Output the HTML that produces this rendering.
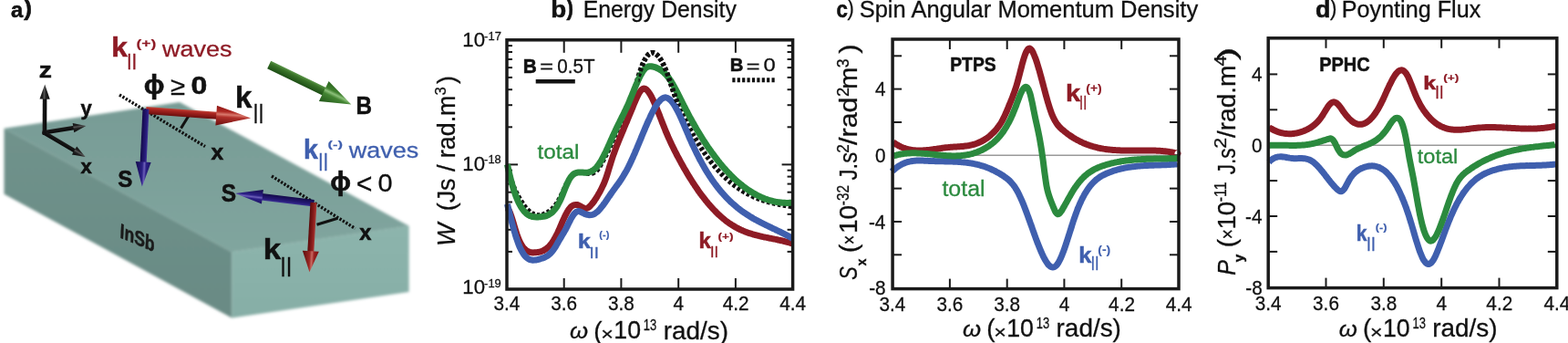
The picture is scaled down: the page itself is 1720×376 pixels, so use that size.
<!DOCTYPE html>
<html><head><meta charset="utf-8"><title>Figure</title>
<style>html,body{margin:0;padding:0;background:#fff;} body{width:1720px;height:376px;overflow:hidden;font-family:"Liberation Sans",Arial,sans-serif;} svg{display:block;}</style>
</head><body>
<svg width="1720" height="376" viewBox="0 0 1720 376" font-family="Liberation Sans, Arial, sans-serif"><defs><linearGradient id="g1" x1="0" y1="0" x2="0" y2="1"><stop offset="0" stop-color="#779b95"/><stop offset="1" stop-color="#80a59e"/></linearGradient><linearGradient id="g2" x1="0" y1="0" x2="0" y2="1"><stop offset="0" stop-color="#6f928b"/><stop offset="1" stop-color="#698a84"/></linearGradient><linearGradient id="g3" x1="0" y1="0" x2="0" y2="1"><stop offset="0" stop-color="#8cb4ac"/><stop offset="1" stop-color="#86aea6"/></linearGradient><linearGradient id="g4" x1="0" y1="0" x2="0" y2="1"><stop offset="0" stop-color="#1a1a1a"/><stop offset="1" stop-color="#0a0a0a"/></linearGradient><linearGradient id="g5" x1="0" y1="0" x2="0" y2="1"><stop offset="0" stop-color="#101010"/><stop offset="0.3" stop-color="#222"/><stop offset="0.45" stop-color="#555"/><stop offset="0.6" stop-color="#222"/><stop offset="1" stop-color="#0a0a0a"/></linearGradient><linearGradient id="g6" x1="0" y1="0" x2="0" y2="1"><stop offset="0" stop-color="#1a1a1a"/><stop offset="1" stop-color="#0a0a0a"/></linearGradient><linearGradient id="g7" x1="0" y1="0" x2="0" y2="1"><stop offset="0" stop-color="#101010"/><stop offset="0.3" stop-color="#222"/><stop offset="0.45" stop-color="#555"/><stop offset="0.6" stop-color="#222"/><stop offset="1" stop-color="#0a0a0a"/></linearGradient><linearGradient id="g8" x1="0" y1="0" x2="0" y2="1"><stop offset="0" stop-color="#1a1a1a"/><stop offset="1" stop-color="#0a0a0a"/></linearGradient><linearGradient id="g9" x1="0" y1="0" x2="0" y2="1"><stop offset="0" stop-color="#101010"/><stop offset="0.3" stop-color="#222"/><stop offset="0.45" stop-color="#555"/><stop offset="0.6" stop-color="#222"/><stop offset="1" stop-color="#0a0a0a"/></linearGradient><linearGradient id="g10" x1="0" y1="0" x2="0" y2="1"><stop offset="0" stop-color="#c2463a"/><stop offset="0.3" stop-color="#a82420"/><stop offset="1" stop-color="#6a0e0e"/></linearGradient><linearGradient id="g11" x1="0" y1="0" x2="0" y2="1"><stop offset="0" stop-color="#8e1616"/><stop offset="0.28" stop-color="#b02a24"/><stop offset="0.42" stop-color="#d8786c"/><stop offset="0.55" stop-color="#b0302a"/><stop offset="1" stop-color="#6a0e0e"/></linearGradient><linearGradient id="g12" x1="0" y1="0" x2="0" y2="1"><stop offset="0" stop-color="#3c3094"/><stop offset="0.3" stop-color="#261a78"/><stop offset="1" stop-color="#140a4a"/></linearGradient><linearGradient id="g13" x1="0" y1="0" x2="0" y2="1"><stop offset="0" stop-color="#1c1260"/><stop offset="0.3" stop-color="#2c2086"/><stop offset="0.42" stop-color="#6c5eb8"/><stop offset="0.55" stop-color="#2c2086"/><stop offset="1" stop-color="#140a4a"/></linearGradient><linearGradient id="g14" x1="0" y1="0" x2="0" y2="1"><stop offset="0" stop-color="#5a9448"/><stop offset="0.3" stop-color="#3a7429"/><stop offset="1" stop-color="#1e4f16"/></linearGradient><linearGradient id="g15" x1="0" y1="0" x2="0" y2="1"><stop offset="0" stop-color="#2a6420"/><stop offset="0.3" stop-color="#3f7f2e"/><stop offset="0.42" stop-color="#8cc07a"/><stop offset="0.55" stop-color="#438432"/><stop offset="1" stop-color="#22561a"/></linearGradient><linearGradient id="g16" x1="0" y1="0" x2="0" y2="1"><stop offset="0" stop-color="#3c3094"/><stop offset="0.3" stop-color="#261a78"/><stop offset="1" stop-color="#140a4a"/></linearGradient><linearGradient id="g17" x1="0" y1="0" x2="0" y2="1"><stop offset="0" stop-color="#1c1260"/><stop offset="0.3" stop-color="#2c2086"/><stop offset="0.42" stop-color="#6c5eb8"/><stop offset="0.55" stop-color="#2c2086"/><stop offset="1" stop-color="#140a4a"/></linearGradient><linearGradient id="g18" x1="0" y1="0" x2="0" y2="1"><stop offset="0" stop-color="#a83a36"/><stop offset="0.3" stop-color="#90201e"/><stop offset="1" stop-color="#5a0a0a"/></linearGradient><linearGradient id="g19" x1="0" y1="0" x2="0" y2="1"><stop offset="0" stop-color="#7a1010"/><stop offset="0.28" stop-color="#9a2220"/><stop offset="0.42" stop-color="#c86a62"/><stop offset="0.55" stop-color="#9a2824"/><stop offset="1" stop-color="#5a0a0a"/></linearGradient><clipPath id="peakclip"><rect x="700.5" y="40" width="60" height="75"/></clipPath><filter id="soft" x="-5%" y="-5%" width="110%" height="110%"><feGaussianBlur stdDeviation="1.4"/></filter></defs><g filter="url(#soft)">
<polygon points="4.5,140.8 254.3,276.2 254.3,348.5 4.5,212.7" fill="url(#g2)"/>
<polygon points="254.3,276.2 448.6,247.7 448.6,320.0 254.3,348.5" fill="url(#g3)"/>
<polygon points="4.5,140.8 197.0,112.0 448.6,247.7 254.3,276.2" fill="url(#g1)"/>
</g>
<text x="0" y="0" font-size="22.5" font-weight="bold" fill="#1a1a1a" stroke="#1a1a1a" stroke-width="0.5" transform="matrix(1,0.42,-0.05,1,131.3,260.3)" textLength="38" lengthAdjust="spacingAndGlyphs">InSb</text>
<g transform="translate(48.9,147.5) rotate(-89.69)"><rect x="0.0" y="-2.3" width="39.9" height="4.6" rx="0.0" fill="url(#g4)"/><path d="M38.9,-5.6 L54.9,0 L38.9,5.6 Z" fill="url(#g5)"/></g>
<g transform="translate(47.0,145.5) rotate(-9.01)"><rect x="0.0" y="-2.2" width="34.9" height="4.4" rx="0.0" fill="url(#g6)"/><path d="M33.9,-5.2 L47.9,0 L33.9,5.2 Z" fill="url(#g7)"/></g>
<g transform="translate(47.5,145.0) rotate(30.45)"><rect x="0.0" y="-2.2" width="40.5" height="4.4" rx="0.0" fill="url(#g8)"/><path d="M39.5,-5.2 L53.5,0 L39.5,5.2 Z" fill="url(#g9)"/></g>
<circle cx="48.6" cy="145.6" r="2.4" fill="#111"/>
<text x="42.87" y="85.30" font-size="23.21" font-weight="bold" fill="#111" stroke="#111" stroke-width="0.55" textLength="14.12" lengthAdjust="spacingAndGlyphs">z</text>
<text x="88.58" y="125.96" font-size="22.57" font-weight="bold" fill="#111" stroke="#111" stroke-width="0.55" textLength="12.26" lengthAdjust="spacingAndGlyphs">y</text>
<text x="88.58" y="190.20" font-size="22.45" font-weight="bold" fill="#111" stroke="#111" stroke-width="0.55" textLength="12.26" lengthAdjust="spacingAndGlyphs">x</text>
<line x1="131" y1="104" x2="225" y2="160.5" stroke="#111" stroke-width="3.4" stroke-dasharray="2.3 1.7"/>
<line x1="298" y1="193" x2="389.6" y2="250.5" stroke="#111" stroke-width="3.4" stroke-dasharray="2.3 1.7"/>
<line x1="207.7" y1="125.7" x2="198.5" y2="140.6" stroke="#111" stroke-width="3"/>
<line x1="347.5" y1="246.3" x2="370.5" y2="239.3" stroke="#111" stroke-width="3"/>
<g transform="translate(160.2,121.0) rotate(4.18)"><rect x="0.0" y="-4.0" width="78.2" height="8.0" rx="0.0" fill="url(#g10)"/><path d="M77.2,-11.0 L115.2,0 L77.2,11.0 Z" fill="url(#g11)"/></g>
<g transform="translate(160.0,119.5) rotate(92.76)"><rect x="0.0" y="-3.5" width="59.1" height="7.0" rx="0.0" fill="url(#g12)"/><path d="M58.1,-8.5 L85.1,0 L58.1,8.5 Z" fill="url(#g13)"/></g>
<g transform="translate(295.2,71.0) rotate(25.82)"><rect x="0.0" y="-4.6" width="67.7" height="9.2" rx="0.0" fill="url(#g14)"/><path d="M66.7,-12.3 L100.1,0 L66.7,12.3 Z" fill="url(#g15)"/></g>
<g transform="translate(344.3,222.7) rotate(-172.99)"><rect x="0.0" y="-3.8" width="57.8" height="7.5" rx="0.0" fill="url(#g16)"/><path d="M56.8,-7.8 L86.8,0 L56.8,7.8 Z" fill="url(#g17)"/></g>
<g transform="translate(344.0,222.0) rotate(93.38)"><rect x="0.0" y="-3.5" width="54.4" height="7.0" rx="0.0" fill="url(#g18)"/><path d="M53.4,-9.0 L76.4,0 L53.4,9.0 Z" fill="url(#g19)"/></g>
<text x="12.09" y="18.85" font-size="24.55" font-weight="bold" fill="#111" stroke="#111" stroke-width="0.55" textLength="13.20" lengthAdjust="spacingAndGlyphs">a</text>
<text x="26.30" y="17.47" font-size="22.99" font-weight="bold" fill="#111" stroke="#111" stroke-width="0.55" textLength="8.76" lengthAdjust="spacingAndGlyphs">)</text>
<text x="122.29" y="62.30" font-size="29.93" font-weight="bold" fill="#8e1b25" stroke="#8e1b25" stroke-width="0.55" textLength="17.55" lengthAdjust="spacingAndGlyphs">k</text>
<text x="138.94" y="71.66" font-size="19.25" fill="#8e1b25" stroke="#8e1b25" stroke-width="0.3" textLength="11.31" lengthAdjust="spacingAndGlyphs">||</text>
<text x="149.52" y="52.34" font-size="13.16" font-weight="bold" fill="#8e1b25" stroke="#8e1b25" stroke-width="0.15" textLength="21.96" lengthAdjust="spacingAndGlyphs">(+)</text>
<text x="178.00" y="62.05" font-size="24.73" fill="#8e1b25" stroke="#8e1b25" stroke-width="0.3" textLength="76.53" lengthAdjust="spacingAndGlyphs">waves</text>
<text x="157.79" y="103.21" font-size="28.98" font-weight="bold" fill="#111" stroke="#111" stroke-width="0.55" textLength="22.71" lengthAdjust="spacingAndGlyphs">ϕ</text>
<text x="186.92" y="103.70" font-size="28.00" fill="#111" stroke="#111" stroke-width="0.3" textLength="16.02" lengthAdjust="spacingAndGlyphs">≥</text>
<text x="209.62" y="103.42" font-size="27.75" font-weight="bold" fill="#111" stroke="#111" stroke-width="0.55" textLength="17.80" lengthAdjust="spacingAndGlyphs">0</text>
<text x="257.89" y="118.30" font-size="33.79" font-weight="bold" fill="#111" stroke="#111" stroke-width="0.55" textLength="18.35" lengthAdjust="spacingAndGlyphs">k</text>
<text x="277.54" y="129.87" font-size="22.03" fill="#111" stroke="#111" stroke-width="0.3" textLength="11.92" lengthAdjust="spacingAndGlyphs">||</text>
<text x="390.42" y="124.70" font-size="27.83" font-weight="bold" fill="#111" stroke="#111" stroke-width="0.55" textLength="17.52" lengthAdjust="spacingAndGlyphs">B</text>
<text x="129.28" y="205.04" font-size="26.20" font-weight="bold" fill="#111" stroke="#111" stroke-width="0.55" textLength="16.12" lengthAdjust="spacingAndGlyphs">S</text>
<text x="231.55" y="174.70" font-size="24.15" font-weight="bold" fill="#111" stroke="#111" stroke-width="0.55" textLength="13.70" lengthAdjust="spacingAndGlyphs">x</text>
<text x="332.91" y="173.60" font-size="30.21" font-weight="bold" fill="#3f5fae" stroke="#3f5fae" stroke-width="0.55" textLength="15.83" lengthAdjust="spacingAndGlyphs">k</text>
<text x="348.94" y="182.73" font-size="19.36" fill="#3f5fae" stroke="#3f5fae" stroke-width="0.3" textLength="11.31" lengthAdjust="spacingAndGlyphs">||</text>
<text x="359.57" y="162.10" font-size="11.44" font-weight="bold" fill="#3f5fae" stroke="#3f5fae" stroke-width="0.15" textLength="16.54" lengthAdjust="spacingAndGlyphs">(-)</text>
<text x="382.80" y="173.36" font-size="24.36" fill="#3f5fae" stroke="#3f5fae" stroke-width="0.3" textLength="76.43" lengthAdjust="spacingAndGlyphs">waves</text>
<text x="362.28" y="209.41" font-size="28.98" font-weight="bold" fill="#111" stroke="#111" stroke-width="0.55" textLength="22.82" lengthAdjust="spacingAndGlyphs">ϕ</text>
<text x="390.68" y="211.70" font-size="30.69" fill="#111" stroke="#111" stroke-width="0.3" textLength="17.70" lengthAdjust="spacingAndGlyphs">&lt;</text>
<text x="414.44" y="209.62" font-size="28.03" fill="#111" stroke="#111" stroke-width="0.3" textLength="16.11" lengthAdjust="spacingAndGlyphs">0</text>
<text x="242.66" y="221.43" font-size="26.90" font-weight="bold" fill="#111" stroke="#111" stroke-width="0.55" textLength="16.34" lengthAdjust="spacingAndGlyphs">S</text>
<text x="394.16" y="263.20" font-size="23.96" font-weight="bold" fill="#111" stroke="#111" stroke-width="0.55" textLength="13.18" lengthAdjust="spacingAndGlyphs">x</text>
<text x="288.86" y="284.00" font-size="31.72" font-weight="bold" fill="#111" stroke="#111" stroke-width="0.55" textLength="19.38" lengthAdjust="spacingAndGlyphs">k</text>
<text x="307.32" y="297.73" font-size="21.28" fill="#111" stroke="#111" stroke-width="0.3" textLength="13.14" lengthAdjust="spacingAndGlyphs">||</text>
<line x1="618.7" y1="43.8" x2="618.7" y2="57.8" stroke="#1a1a1a" stroke-width="2"/>
<line x1="618.7" y1="317.0" x2="618.7" y2="305.0" stroke="#1a1a1a" stroke-width="2"/>
<line x1="681.4" y1="43.8" x2="681.4" y2="57.8" stroke="#1a1a1a" stroke-width="2"/>
<line x1="681.4" y1="317.0" x2="681.4" y2="305.0" stroke="#1a1a1a" stroke-width="2"/>
<line x1="744.2" y1="43.8" x2="744.2" y2="57.8" stroke="#1a1a1a" stroke-width="2"/>
<line x1="744.2" y1="317.0" x2="744.2" y2="305.0" stroke="#1a1a1a" stroke-width="2"/>
<line x1="806.9" y1="43.8" x2="806.9" y2="57.8" stroke="#1a1a1a" stroke-width="2"/>
<line x1="806.9" y1="317.0" x2="806.9" y2="305.0" stroke="#1a1a1a" stroke-width="2"/>
<line x1="556.0" y1="275.9" x2="562.0" y2="275.9" stroke="#1a1a1a" stroke-width="2"/>
<line x1="869.6" y1="275.9" x2="863.6" y2="275.9" stroke="#1a1a1a" stroke-width="2"/>
<line x1="556.0" y1="139.3" x2="562.0" y2="139.3" stroke="#1a1a1a" stroke-width="2"/>
<line x1="869.6" y1="139.3" x2="863.6" y2="139.3" stroke="#1a1a1a" stroke-width="2"/>
<line x1="556.0" y1="251.8" x2="562.0" y2="251.8" stroke="#1a1a1a" stroke-width="2"/>
<line x1="869.6" y1="251.8" x2="863.6" y2="251.8" stroke="#1a1a1a" stroke-width="2"/>
<line x1="556.0" y1="115.2" x2="562.0" y2="115.2" stroke="#1a1a1a" stroke-width="2"/>
<line x1="869.6" y1="115.2" x2="863.6" y2="115.2" stroke="#1a1a1a" stroke-width="2"/>
<line x1="556.0" y1="234.8" x2="562.0" y2="234.8" stroke="#1a1a1a" stroke-width="2"/>
<line x1="869.6" y1="234.8" x2="863.6" y2="234.8" stroke="#1a1a1a" stroke-width="2"/>
<line x1="556.0" y1="98.2" x2="562.0" y2="98.2" stroke="#1a1a1a" stroke-width="2"/>
<line x1="869.6" y1="98.2" x2="863.6" y2="98.2" stroke="#1a1a1a" stroke-width="2"/>
<line x1="556.0" y1="221.5" x2="562.0" y2="221.5" stroke="#1a1a1a" stroke-width="2"/>
<line x1="869.6" y1="221.5" x2="863.6" y2="221.5" stroke="#1a1a1a" stroke-width="2"/>
<line x1="556.0" y1="84.9" x2="562.0" y2="84.9" stroke="#1a1a1a" stroke-width="2"/>
<line x1="869.6" y1="84.9" x2="863.6" y2="84.9" stroke="#1a1a1a" stroke-width="2"/>
<line x1="556.0" y1="210.7" x2="562.0" y2="210.7" stroke="#1a1a1a" stroke-width="2"/>
<line x1="869.6" y1="210.7" x2="863.6" y2="210.7" stroke="#1a1a1a" stroke-width="2"/>
<line x1="556.0" y1="74.1" x2="562.0" y2="74.1" stroke="#1a1a1a" stroke-width="2"/>
<line x1="869.6" y1="74.1" x2="863.6" y2="74.1" stroke="#1a1a1a" stroke-width="2"/>
<line x1="556.0" y1="201.6" x2="562.0" y2="201.6" stroke="#1a1a1a" stroke-width="2"/>
<line x1="869.6" y1="201.6" x2="863.6" y2="201.6" stroke="#1a1a1a" stroke-width="2"/>
<line x1="556.0" y1="65.0" x2="562.0" y2="65.0" stroke="#1a1a1a" stroke-width="2"/>
<line x1="869.6" y1="65.0" x2="863.6" y2="65.0" stroke="#1a1a1a" stroke-width="2"/>
<line x1="556.0" y1="193.6" x2="562.0" y2="193.6" stroke="#1a1a1a" stroke-width="2"/>
<line x1="869.6" y1="193.6" x2="863.6" y2="193.6" stroke="#1a1a1a" stroke-width="2"/>
<line x1="556.0" y1="57.0" x2="562.0" y2="57.0" stroke="#1a1a1a" stroke-width="2"/>
<line x1="869.6" y1="57.0" x2="863.6" y2="57.0" stroke="#1a1a1a" stroke-width="2"/>
<line x1="556.0" y1="186.7" x2="562.0" y2="186.7" stroke="#1a1a1a" stroke-width="2"/>
<line x1="869.6" y1="186.7" x2="863.6" y2="186.7" stroke="#1a1a1a" stroke-width="2"/>
<line x1="556.0" y1="50.1" x2="562.0" y2="50.1" stroke="#1a1a1a" stroke-width="2"/>
<line x1="869.6" y1="50.1" x2="863.6" y2="50.1" stroke="#1a1a1a" stroke-width="2"/>
<line x1="556.0" y1="180.4" x2="568.0" y2="180.4" stroke="#1a1a1a" stroke-width="2"/>
<line x1="869.6" y1="180.4" x2="857.6" y2="180.4" stroke="#1a1a1a" stroke-width="2"/>
<path d="M556.5,181.1 C556.8,182.4 557.8,186.8 558.5,189.3 C559.2,191.9 559.8,194.2 560.5,196.3 C561.2,198.4 561.8,200.3 562.5,202.1 C563.2,203.9 563.8,205.6 564.5,207.1 C565.2,208.6 565.8,210.0 566.5,211.3 C567.2,212.7 567.8,213.9 568.5,215.1 C569.2,216.3 569.8,217.4 570.5,218.6 C571.2,219.7 571.8,220.8 572.5,221.8 C573.2,222.9 573.8,223.9 574.5,224.9 C575.2,225.8 575.8,226.7 576.5,227.5 C577.2,228.4 577.8,229.1 578.5,229.8 C579.2,230.5 579.8,231.1 580.5,231.7 C581.2,232.3 581.8,232.8 582.5,233.2 C583.2,233.7 583.8,234.1 584.5,234.4 C585.2,234.7 585.8,235.0 586.5,235.2 C587.2,235.4 587.8,235.6 588.5,235.7 C589.2,235.8 589.8,235.9 590.5,235.9 C591.2,235.9 591.8,235.9 592.5,235.8 C593.2,235.7 593.8,235.6 594.5,235.4 C595.2,235.2 595.8,235.0 596.5,234.8 C597.2,234.5 597.8,234.2 598.5,233.9 C599.2,233.6 599.8,233.3 600.5,232.9 C601.2,232.5 601.8,232.1 602.5,231.6 C603.2,231.1 603.8,230.6 604.5,230.0 C605.2,229.5 605.8,228.9 606.5,228.2 C607.2,227.5 607.8,226.7 608.5,225.9 C609.2,225.1 609.8,224.2 610.5,223.3 C611.2,222.3 611.8,221.3 612.5,220.1 C613.2,219.0 613.8,217.8 614.5,216.5 C615.2,215.2 615.8,213.7 616.5,212.3 C617.2,210.9 617.8,209.3 618.5,207.9 C619.2,206.4 619.8,204.9 620.5,203.6 C621.2,202.2 621.8,200.9 622.5,199.7 C623.2,198.5 623.8,197.5 624.5,196.5 C625.2,195.6 625.8,194.7 626.5,194.0 C627.2,193.2 627.8,192.6 628.5,192.0 C629.2,191.4 629.8,191.0 630.5,190.6 C631.2,190.2 631.8,189.8 632.5,189.6 C633.2,189.3 633.8,189.2 634.5,189.0 C635.2,188.9 635.8,188.9 636.5,188.9 C637.2,188.8 637.8,188.9 638.5,189.0 C639.2,189.1 639.8,189.2 640.5,189.3 C641.2,189.4 641.8,189.6 642.5,189.7 C643.2,189.8 643.8,190.0 644.5,190.1 C645.2,190.2 645.8,190.3 646.5,190.3 C647.2,190.3 647.8,190.3 648.5,190.2 C649.2,190.1 649.8,189.9 650.5,189.7 C651.2,189.4 651.8,189.1 652.5,188.6 C653.2,188.2 653.8,187.7 654.5,187.0 C655.2,186.3 655.8,185.4 656.5,184.5 C657.2,183.6 657.8,182.5 658.5,181.4 C659.2,180.3 659.8,179.1 660.5,177.9 C661.2,176.7 661.8,175.5 662.5,174.3 C663.2,173.0 663.8,171.8 664.5,170.5 C665.2,169.3 665.8,168.0 666.5,166.7 C667.2,165.4 667.8,164.1 668.5,162.7 C669.2,161.2 669.8,159.8 670.5,158.2 C671.2,156.7 671.8,155.0 672.5,153.4 C673.2,151.8 673.8,150.1 674.5,148.5 C675.2,146.9 675.8,145.3 676.5,143.8 C677.2,142.3 677.8,140.8 678.5,139.5 C679.2,138.2 679.8,137.0 680.5,135.9 C681.2,134.7 681.8,133.7 682.5,132.6 C683.2,131.5 683.8,130.4 684.5,129.3 C685.2,128.1 685.8,127.0 686.5,125.6 C687.2,124.3 687.8,123.0 688.5,121.4 C689.2,119.9 689.8,118.2 690.5,116.3 C691.2,114.4 691.8,112.3 692.5,110.2 C693.2,108.0 693.8,105.7 694.5,103.4 C695.2,101.1 695.8,98.7 696.5,96.4 C697.2,94.1 697.8,91.7 698.5,89.5 C699.2,87.2 699.8,85.0 700.5,82.9 C701.2,80.8 701.8,78.8 702.5,76.9 C703.2,75.0 703.8,73.2 704.5,71.5 C705.2,69.9 705.8,68.3 706.5,67.0 C707.2,65.6 707.8,64.4 708.5,63.4 C709.2,62.3 709.8,61.4 710.5,60.7 C711.2,59.9 711.8,59.3 712.5,58.9 C713.2,58.4 713.8,58.1 714.5,57.9 C715.2,57.7 715.8,57.7 716.5,57.8 C717.2,57.9 717.8,58.1 718.5,58.4 C719.2,58.8 719.8,59.3 720.5,59.9 C721.2,60.4 721.8,61.2 722.5,62.0 C723.2,62.8 723.8,63.8 724.5,64.8 C725.2,65.9 725.8,67.0 726.5,68.3 C727.2,69.6 727.8,70.9 728.5,72.4 C729.2,73.9 729.8,75.4 730.5,77.1 C731.2,78.8 731.8,80.5 732.5,82.4 C733.2,84.2 733.8,86.1 734.5,88.0 C735.2,89.9 735.8,91.9 736.5,93.9 C737.2,95.9 737.8,97.8 738.5,99.8 C739.2,101.7 739.8,103.6 740.5,105.4 C741.2,107.3 741.8,109.0 742.5,110.7 C743.2,112.4 743.8,114.0 744.5,115.6 C745.2,117.1 745.8,118.6 746.5,120.1 C747.2,121.6 747.8,123.0 748.5,124.4 C749.2,125.8 749.8,127.2 750.5,128.6 C751.2,129.9 751.8,131.3 752.5,132.6 C753.2,134.0 753.8,135.3 754.5,136.6 C755.2,137.9 755.8,139.2 756.5,140.4 C757.2,141.7 757.8,142.9 758.5,144.2 C759.2,145.4 759.8,146.6 760.5,147.8 C761.2,149.0 761.8,150.2 762.5,151.3 C763.2,152.5 763.8,153.6 764.5,154.7 C765.2,155.8 765.8,156.9 766.5,158.0 C767.2,159.1 767.8,160.2 768.5,161.2 C769.2,162.2 769.8,163.3 770.5,164.3 C771.2,165.3 771.8,166.3 772.5,167.3 C773.2,168.2 773.8,169.2 774.5,170.1 C775.2,171.1 775.8,172.0 776.5,172.9 C777.2,173.8 777.8,174.7 778.5,175.6 C779.2,176.5 779.8,177.3 780.5,178.2 C781.2,179.0 781.8,179.9 782.5,180.7 C783.2,181.5 783.8,182.3 784.5,183.1 C785.2,183.9 785.8,184.6 786.5,185.4 C787.2,186.1 787.8,186.9 788.5,187.6 C789.2,188.3 789.8,189.0 790.5,189.7 C791.2,190.4 791.8,191.1 792.5,191.8 C793.2,192.5 793.8,193.1 794.5,193.8 C795.2,194.4 795.8,195.0 796.5,195.7 C797.2,196.3 797.8,196.9 798.5,197.5 C799.2,198.1 799.8,198.6 800.5,199.2 C801.2,199.8 801.8,200.3 802.5,200.9 C803.2,201.4 803.8,201.9 804.5,202.4 C805.2,203.0 805.8,203.5 806.5,204.0 C807.2,204.5 807.8,204.9 808.5,205.4 C809.2,205.9 809.8,206.3 810.5,206.8 C811.2,207.2 811.8,207.7 812.5,208.1 C813.2,208.5 813.8,209.0 814.5,209.4 C815.2,209.8 815.8,210.2 816.5,210.6 C817.2,210.9 817.8,211.3 818.5,211.7 C819.2,212.1 819.8,212.4 820.5,212.8 C821.2,213.1 821.8,213.4 822.5,213.8 C823.2,214.1 823.8,214.4 824.5,214.7 C825.2,215.1 825.8,215.4 826.5,215.7 C827.2,216.0 827.8,216.2 828.5,216.5 C829.2,216.8 829.8,217.1 830.5,217.3 C831.2,217.6 831.8,217.9 832.5,218.1 C833.2,218.4 833.8,218.6 834.5,218.8 C835.2,219.1 835.8,219.3 836.5,219.5 C837.2,219.8 837.8,220.0 838.5,220.2 C839.2,220.4 839.8,220.6 840.5,220.8 C841.2,221.0 841.8,221.2 842.5,221.4 C843.2,221.5 843.8,221.7 844.5,221.9 C845.2,222.1 845.8,222.2 846.5,222.4 C847.2,222.6 847.8,222.7 848.5,222.9 C849.2,223.0 849.8,223.2 850.5,223.3 C851.2,223.5 851.8,223.6 852.5,223.8 C853.2,223.9 853.8,224.0 854.5,224.2 C855.2,224.3 855.8,224.4 856.5,224.5 C857.2,224.6 857.8,224.8 858.5,224.9 C859.2,225.0 859.8,225.1 860.5,225.2 C861.2,225.3 861.8,225.4 862.5,225.5 C863.2,225.6 863.8,225.7 864.5,225.8 C865.2,225.9 865.8,226.0 866.5,226.1 C867.2,226.2 868.1,226.4 868.5,226.4 C868.9,226.5 868.9,226.5 869.0,226.5" fill="none" stroke="#111" stroke-width="5.5" stroke-linejoin="round" stroke-dasharray="3.6 2.4"/>
<path d="M557.0,228.1 C557.3,228.7 558.3,230.4 559.0,232.0 C559.7,233.5 560.3,235.5 561.0,237.5 C561.7,239.5 562.3,241.7 563.0,243.9 C563.7,246.1 564.3,248.5 565.0,250.6 C565.7,252.8 566.3,255.0 567.0,256.9 C567.7,258.8 568.3,260.6 569.0,262.2 C569.7,263.8 570.3,265.2 571.0,266.5 C571.7,267.7 572.3,268.9 573.0,269.8 C573.7,270.8 574.3,271.7 575.0,272.4 C575.7,273.2 576.3,273.8 577.0,274.3 C577.7,274.8 578.3,275.2 579.0,275.6 C579.7,275.9 580.3,276.2 581.0,276.4 C581.7,276.6 582.3,276.7 583.0,276.8 C583.7,276.9 584.3,276.9 585.0,276.9 C585.7,276.9 586.3,276.8 587.0,276.8 C587.7,276.8 588.3,276.7 589.0,276.6 C589.7,276.5 590.3,276.4 591.0,276.3 C591.7,276.1 592.3,276.0 593.0,275.8 C593.7,275.6 594.3,275.4 595.0,275.1 C595.7,274.8 596.3,274.5 597.0,274.1 C597.7,273.7 598.3,273.3 599.0,272.8 C599.7,272.4 600.3,271.8 601.0,271.2 C601.7,270.6 602.3,270.0 603.0,269.2 C603.7,268.5 604.3,267.7 605.0,266.8 C605.7,265.9 606.3,265.0 607.0,263.9 C607.7,262.9 608.3,261.8 609.0,260.5 C609.7,259.3 610.3,258.0 611.0,256.6 C611.7,255.2 612.3,253.7 613.0,252.2 C613.7,250.7 614.3,249.2 615.0,247.6 C615.7,246.1 616.3,244.5 617.0,243.0 C617.7,241.5 618.3,240.0 619.0,238.6 C619.7,237.1 620.3,235.8 621.0,234.5 C621.7,233.2 622.3,232.0 623.0,231.0 C623.7,229.9 624.3,229.0 625.0,228.2 C625.7,227.4 626.3,226.8 627.0,226.2 C627.7,225.7 628.3,225.3 629.0,225.0 C629.7,224.7 630.3,224.5 631.0,224.5 C631.7,224.4 632.3,224.4 633.0,224.5 C633.7,224.6 634.3,224.8 635.0,225.1 C635.7,225.4 636.3,225.8 637.0,226.2 C637.7,226.5 638.3,227.0 639.0,227.4 C639.7,227.8 640.3,228.2 641.0,228.4 C641.7,228.6 642.3,228.7 643.0,228.6 C643.7,228.5 644.3,228.2 645.0,227.8 C645.7,227.4 646.3,226.8 647.0,226.2 C647.7,225.5 648.3,224.8 649.0,224.0 C649.7,223.2 650.3,222.4 651.0,221.5 C651.7,220.6 652.3,219.6 653.0,218.6 C653.7,217.6 654.3,216.6 655.0,215.5 C655.7,214.4 656.3,213.2 657.0,212.0 C657.7,210.8 658.3,209.6 659.0,208.3 C659.7,207.0 660.3,205.7 661.0,204.3 C661.7,202.9 662.3,201.5 663.0,199.8 C663.7,198.2 664.3,196.4 665.0,194.5 C665.7,192.6 666.3,190.4 667.0,188.3 C667.7,186.1 668.3,183.8 669.0,181.7 C669.7,179.5 670.3,177.3 671.0,175.3 C671.7,173.2 672.3,171.3 673.0,169.4 C673.7,167.5 674.3,165.7 675.0,163.9 C675.7,162.1 676.3,160.4 677.0,158.7 C677.7,157.0 678.3,155.4 679.0,153.7 C679.7,152.1 680.3,150.4 681.0,148.8 C681.7,147.2 682.3,145.6 683.0,144.0 C683.7,142.4 684.3,140.8 685.0,139.2 C685.7,137.6 686.3,136.0 687.0,134.5 C687.7,132.9 688.3,131.3 689.0,129.7 C689.7,128.1 690.3,126.5 691.0,124.9 C691.7,123.3 692.3,121.7 693.0,120.1 C693.7,118.5 694.3,116.8 695.0,115.2 C695.7,113.6 696.3,111.9 697.0,110.4 C697.7,108.8 698.3,107.3 699.0,105.9 C699.7,104.6 700.3,103.2 701.0,102.1 C701.7,101.0 702.3,100.0 703.0,99.2 C703.7,98.4 704.3,97.8 705.0,97.5 C705.7,97.1 706.3,97.0 707.0,97.1 C707.7,97.3 708.3,97.7 709.0,98.2 C709.7,98.7 710.3,99.4 711.0,100.3 C711.7,101.1 712.3,102.2 713.0,103.2 C713.7,104.3 714.3,105.6 715.0,106.8 C715.7,108.1 716.3,109.5 717.0,111.0 C717.7,112.4 718.3,113.9 719.0,115.5 C719.7,117.1 720.3,118.7 721.0,120.3 C721.7,122.0 722.3,123.7 723.0,125.4 C723.7,127.1 724.3,128.8 725.0,130.5 C725.7,132.3 726.3,134.0 727.0,135.7 C727.7,137.4 728.3,139.1 729.0,140.7 C729.7,142.3 730.3,144.0 731.0,145.5 C731.7,147.1 732.3,148.6 733.0,150.2 C733.7,151.7 734.3,153.1 735.0,154.6 C735.7,156.0 736.3,157.5 737.0,158.9 C737.7,160.2 738.3,161.6 739.0,163.0 C739.7,164.3 740.3,165.6 741.0,166.9 C741.7,168.2 742.3,169.5 743.0,170.8 C743.7,172.1 744.3,173.3 745.0,174.6 C745.7,175.8 746.3,177.0 747.0,178.2 C747.7,179.4 748.3,180.6 749.0,181.8 C749.7,183.0 750.3,184.2 751.0,185.3 C751.7,186.5 752.3,187.6 753.0,188.7 C753.7,189.9 754.3,191.0 755.0,192.1 C755.7,193.2 756.3,194.3 757.0,195.3 C757.7,196.4 758.3,197.5 759.0,198.5 C759.7,199.5 760.3,200.6 761.0,201.6 C761.7,202.6 762.3,203.6 763.0,204.6 C763.7,205.6 764.3,206.5 765.0,207.5 C765.7,208.4 766.3,209.4 767.0,210.3 C767.7,211.2 768.3,212.2 769.0,213.1 C769.7,214.0 770.3,214.9 771.0,215.7 C771.7,216.6 772.3,217.5 773.0,218.3 C773.7,219.1 774.3,220.0 775.0,220.8 C775.7,221.6 776.3,222.4 777.0,223.2 C777.7,224.0 778.3,224.8 779.0,225.5 C779.7,226.3 780.3,227.0 781.0,227.7 C781.7,228.5 782.3,229.2 783.0,229.9 C783.7,230.6 784.3,231.3 785.0,232.0 C785.7,232.6 786.3,233.3 787.0,233.9 C787.7,234.6 788.3,235.2 789.0,235.8 C789.7,236.5 790.3,237.1 791.0,237.6 C791.7,238.2 792.3,238.8 793.0,239.4 C793.7,239.9 794.3,240.5 795.0,241.0 C795.7,241.5 796.3,242.1 797.0,242.6 C797.7,243.1 798.3,243.6 799.0,244.0 C799.7,244.5 800.3,245.0 801.0,245.4 C801.7,245.9 802.3,246.3 803.0,246.7 C803.7,247.1 804.3,247.5 805.0,247.9 C805.7,248.3 806.3,248.7 807.0,249.1 C807.7,249.4 808.3,249.8 809.0,250.1 C809.7,250.5 810.3,250.8 811.0,251.1 C811.7,251.5 812.3,251.8 813.0,252.1 C813.7,252.4 814.3,252.7 815.0,253.0 C815.7,253.2 816.3,253.5 817.0,253.8 C817.7,254.0 818.3,254.3 819.0,254.5 C819.7,254.8 820.3,255.0 821.0,255.3 C821.7,255.5 822.3,255.7 823.0,255.9 C823.7,256.1 824.3,256.3 825.0,256.5 C825.7,256.7 826.3,256.9 827.0,257.1 C827.7,257.3 828.3,257.5 829.0,257.7 C829.7,257.9 830.3,258.0 831.0,258.2 C831.7,258.4 832.3,258.5 833.0,258.7 C833.7,258.8 834.3,259.0 835.0,259.1 C835.7,259.3 836.3,259.4 837.0,259.6 C837.7,259.7 838.3,259.9 839.0,260.0 C839.7,260.2 840.3,260.3 841.0,260.4 C841.7,260.6 842.3,260.7 843.0,260.8 C843.7,261.0 844.3,261.1 845.0,261.2 C845.7,261.4 846.3,261.5 847.0,261.6 C847.7,261.8 848.3,261.9 849.0,262.0 C849.7,262.2 850.3,262.3 851.0,262.4 C851.7,262.6 852.3,262.7 853.0,262.8 C853.7,263.0 854.3,263.1 855.0,263.3 C855.7,263.4 856.3,263.6 857.0,263.7 C857.7,263.9 858.3,264.0 859.0,264.2 C859.7,264.3 860.3,264.5 861.0,264.7 C861.7,264.8 862.3,265.0 863.0,265.2 C863.7,265.3 864.3,265.5 865.0,265.7 C865.7,265.9 866.3,266.1 867.0,266.3 C867.7,266.5 868.7,266.8 869.0,266.9" fill="none" stroke="#8e1b25" stroke-width="7" stroke-linejoin="round" />
<path d="M556.5,223.8 C556.8,225.1 557.8,229.3 558.5,231.9 C559.2,234.6 559.8,237.3 560.5,239.9 C561.2,242.5 561.8,245.0 562.5,247.5 C563.2,249.9 563.8,252.3 564.5,254.6 C565.2,256.8 565.8,259.0 566.5,261.0 C567.2,263.1 567.8,265.0 568.5,266.8 C569.2,268.5 569.8,270.2 570.5,271.6 C571.2,273.1 571.8,274.4 572.5,275.6 C573.2,276.8 573.8,277.8 574.5,278.8 C575.2,279.7 575.8,280.5 576.5,281.2 C577.2,281.9 577.8,282.5 578.5,283.0 C579.2,283.5 579.8,283.9 580.5,284.2 C581.2,284.5 581.8,284.7 582.5,284.9 C583.2,285.0 583.8,285.1 584.5,285.2 C585.2,285.2 585.8,285.2 586.5,285.1 C587.2,285.1 587.8,285.0 588.5,284.9 C589.2,284.7 589.8,284.6 590.5,284.4 C591.2,284.2 591.8,284.0 592.5,283.8 C593.2,283.6 593.8,283.4 594.5,283.2 C595.2,283.0 595.8,282.8 596.5,282.5 C597.2,282.2 597.8,281.9 598.5,281.5 C599.2,281.2 599.8,280.8 600.5,280.4 C601.2,279.9 601.8,279.4 602.5,278.9 C603.2,278.3 603.8,277.7 604.5,277.0 C605.2,276.2 605.8,275.5 606.5,274.6 C607.2,273.7 607.8,272.7 608.5,271.7 C609.2,270.7 609.8,269.6 610.5,268.4 C611.2,267.3 611.8,266.1 612.5,265.0 C613.2,263.8 613.8,262.6 614.5,261.5 C615.2,260.4 615.8,259.3 616.5,258.2 C617.2,257.1 617.8,256.0 618.5,254.9 C619.2,253.7 619.8,252.6 620.5,251.4 C621.2,250.1 621.8,248.8 622.5,247.5 C623.2,246.1 623.8,244.7 624.5,243.4 C625.2,242.1 625.8,240.8 626.5,239.6 C627.2,238.4 627.8,237.3 628.5,236.3 C629.2,235.3 629.8,234.5 630.5,233.8 C631.2,233.1 631.8,232.5 632.5,232.1 C633.2,231.8 633.8,231.6 634.5,231.6 C635.2,231.6 635.8,231.8 636.5,232.1 C637.2,232.3 637.8,232.7 638.5,233.0 C639.2,233.3 639.8,233.7 640.5,234.0 C641.2,234.3 641.8,234.5 642.5,234.8 C643.2,235.0 643.8,235.2 644.5,235.4 C645.2,235.5 645.8,235.6 646.5,235.7 C647.2,235.7 647.8,235.7 648.5,235.6 C649.2,235.5 649.8,235.4 650.5,235.1 C651.2,234.9 651.8,234.6 652.5,234.2 C653.2,233.8 653.8,233.3 654.5,232.7 C655.2,232.2 655.8,231.6 656.5,230.9 C657.2,230.2 657.8,229.5 658.5,228.7 C659.2,227.9 659.8,227.1 660.5,226.2 C661.2,225.4 661.8,224.4 662.5,223.5 C663.2,222.6 663.8,221.7 664.5,220.7 C665.2,219.7 665.8,218.8 666.5,217.8 C667.2,216.8 667.8,215.8 668.5,214.9 C669.2,213.9 669.8,212.9 670.5,212.0 C671.2,211.0 671.8,210.1 672.5,209.2 C673.2,208.3 673.8,207.4 674.5,206.4 C675.2,205.5 675.8,204.6 676.5,203.7 C677.2,202.8 677.8,201.8 678.5,200.9 C679.2,199.9 679.8,199.0 680.5,198.0 C681.2,197.0 681.8,196.0 682.5,194.9 C683.2,193.9 683.8,192.8 684.5,191.7 C685.2,190.6 685.8,189.5 686.5,188.3 C687.2,187.1 687.8,185.9 688.5,184.6 C689.2,183.3 689.8,182.0 690.5,180.6 C691.2,179.2 691.8,177.8 692.5,176.4 C693.2,174.9 693.8,173.4 694.5,171.9 C695.2,170.4 695.8,168.9 696.5,167.4 C697.2,165.8 697.8,164.2 698.5,162.7 C699.2,161.1 699.8,159.5 700.5,157.9 C701.2,156.3 701.8,154.7 702.5,153.1 C703.2,151.5 703.8,149.8 704.5,148.2 C705.2,146.6 705.8,145.0 706.5,143.4 C707.2,141.9 707.8,140.3 708.5,138.7 C709.2,137.2 709.8,135.6 710.5,134.1 C711.2,132.6 711.8,131.1 712.5,129.7 C713.2,128.2 713.8,126.8 714.5,125.4 C715.2,124.1 715.8,122.7 716.5,121.5 C717.2,120.2 717.8,119.0 718.5,117.8 C719.2,116.7 719.8,115.6 720.5,114.6 C721.2,113.6 721.8,112.6 722.5,111.8 C723.2,111.0 723.8,110.2 724.5,109.6 C725.2,109.0 725.8,108.4 726.5,108.0 C727.2,107.6 727.8,107.3 728.5,107.1 C729.2,106.9 729.8,106.8 730.5,106.9 C731.2,107.0 731.8,107.2 732.5,107.6 C733.2,107.9 733.8,108.4 734.5,108.9 C735.2,109.5 735.8,110.2 736.5,110.9 C737.2,111.7 737.8,112.6 738.5,113.5 C739.2,114.5 739.8,115.5 740.5,116.6 C741.2,117.7 741.8,118.9 742.5,120.2 C743.2,121.4 743.8,122.7 744.5,124.1 C745.2,125.4 745.8,126.8 746.5,128.3 C747.2,129.7 747.8,131.2 748.5,132.7 C749.2,134.2 749.8,135.8 750.5,137.3 C751.2,138.9 751.8,140.4 752.5,142.0 C753.2,143.6 753.8,145.2 754.5,146.7 C755.2,148.3 755.8,149.8 756.5,151.4 C757.2,152.9 757.8,154.4 758.5,155.9 C759.2,157.4 759.8,158.9 760.5,160.3 C761.2,161.7 761.8,163.1 762.5,164.5 C763.2,165.9 763.8,167.2 764.5,168.6 C765.2,169.9 765.8,171.2 766.5,172.5 C767.2,173.8 767.8,175.1 768.5,176.3 C769.2,177.5 769.8,178.7 770.5,179.9 C771.2,181.1 771.8,182.3 772.5,183.4 C773.2,184.6 773.8,185.7 774.5,186.8 C775.2,187.9 775.8,189.0 776.5,190.1 C777.2,191.1 777.8,192.2 778.5,193.2 C779.2,194.2 779.8,195.2 780.5,196.2 C781.2,197.2 781.8,198.1 782.5,199.1 C783.2,200.0 783.8,200.9 784.5,201.8 C785.2,202.7 785.8,203.6 786.5,204.5 C787.2,205.3 787.8,206.2 788.5,207.0 C789.2,207.8 789.8,208.7 790.5,209.5 C791.2,210.3 791.8,211.0 792.5,211.8 C793.2,212.6 793.8,213.3 794.5,214.0 C795.2,214.8 795.8,215.5 796.5,216.2 C797.2,216.9 797.8,217.6 798.5,218.2 C799.2,218.9 799.8,219.6 800.5,220.2 C801.2,220.9 801.8,221.5 802.5,222.1 C803.2,222.7 803.8,223.3 804.5,223.9 C805.2,224.5 805.8,225.1 806.5,225.6 C807.2,226.2 807.8,226.8 808.5,227.3 C809.2,227.8 809.8,228.4 810.5,228.9 C811.2,229.4 811.8,229.9 812.5,230.4 C813.2,230.9 813.8,231.4 814.5,231.9 C815.2,232.4 815.8,232.8 816.5,233.3 C817.2,233.7 817.8,234.2 818.5,234.6 C819.2,235.1 819.8,235.5 820.5,235.9 C821.2,236.4 821.8,236.8 822.5,237.2 C823.2,237.6 823.8,238.0 824.5,238.4 C825.2,238.8 825.8,239.2 826.5,239.6 C827.2,239.9 827.8,240.3 828.5,240.7 C829.2,241.1 829.8,241.4 830.5,241.8 C831.2,242.1 831.8,242.5 832.5,242.8 C833.2,243.2 833.8,243.5 834.5,243.9 C835.2,244.2 835.8,244.6 836.5,244.9 C837.2,245.2 837.8,245.6 838.5,245.9 C839.2,246.2 839.8,246.5 840.5,246.9 C841.2,247.2 841.8,247.5 842.5,247.8 C843.2,248.2 843.8,248.5 844.5,248.8 C845.2,249.1 845.8,249.4 846.5,249.7 C847.2,250.1 847.8,250.4 848.5,250.7 C849.2,251.0 849.8,251.3 850.5,251.6 C851.2,252.0 851.8,252.3 852.5,252.6 C853.2,252.9 853.8,253.2 854.5,253.6 C855.2,253.9 855.8,254.2 856.5,254.5 C857.2,254.9 857.8,255.2 858.5,255.5 C859.2,255.9 859.8,256.2 860.5,256.5 C861.2,256.9 861.8,257.2 862.5,257.6 C863.2,257.9 863.8,258.3 864.5,258.6 C865.2,259.0 865.8,259.4 866.5,259.7 C867.2,260.1 868.1,260.6 868.5,260.9 C868.9,261.1 868.9,261.1 869.0,261.1" fill="none" stroke="#3f5fae" stroke-width="7" stroke-linejoin="round" />
<path d="M556.5,180.2 C556.8,181.7 557.8,186.4 558.5,189.3 C559.2,192.2 559.8,194.9 560.5,197.4 C561.2,200.0 561.8,202.4 562.5,204.6 C563.2,206.9 563.8,209.0 564.5,210.9 C565.2,212.9 565.8,214.7 566.5,216.4 C567.2,218.1 567.8,219.6 568.5,221.1 C569.2,222.5 569.8,223.8 570.5,225.0 C571.2,226.2 571.8,227.3 572.5,228.3 C573.2,229.3 573.8,230.2 574.5,231.0 C575.2,231.9 575.8,232.6 576.5,233.2 C577.2,233.8 577.8,234.4 578.5,234.9 C579.2,235.4 579.8,235.8 580.5,236.1 C581.2,236.5 581.8,236.8 582.5,237.0 C583.2,237.2 583.8,237.4 584.5,237.6 C585.2,237.7 585.8,237.8 586.5,237.8 C587.2,237.9 587.8,237.9 588.5,237.9 C589.2,238.0 589.8,237.9 590.5,237.9 C591.2,237.9 591.8,237.8 592.5,237.8 C593.2,237.7 593.8,237.6 594.5,237.6 C595.2,237.5 595.8,237.4 596.5,237.2 C597.2,237.1 597.8,237.0 598.5,236.8 C599.2,236.6 599.8,236.3 600.5,236.0 C601.2,235.8 601.8,235.4 602.5,235.0 C603.2,234.6 603.8,234.2 604.5,233.7 C605.2,233.2 605.8,232.6 606.5,231.9 C607.2,231.3 607.8,230.5 608.5,229.7 C609.2,228.9 609.8,228.0 610.5,227.0 C611.2,225.9 611.8,224.8 612.5,223.6 C613.2,222.4 613.8,221.1 614.5,219.7 C615.2,218.3 615.8,216.7 616.5,215.1 C617.2,213.5 617.8,211.8 618.5,210.2 C619.2,208.5 619.8,206.8 620.5,205.2 C621.2,203.6 621.8,202.0 622.5,200.6 C623.2,199.2 623.8,197.8 624.5,196.6 C625.2,195.5 625.8,194.5 626.5,193.6 C627.2,192.8 627.8,192.1 628.5,191.5 C629.2,190.9 629.8,190.5 630.5,190.1 C631.2,189.7 631.8,189.5 632.5,189.3 C633.2,189.1 633.8,189.0 634.5,188.9 C635.2,188.9 635.8,188.9 636.5,188.9 C637.2,188.9 637.8,189.0 638.5,189.0 C639.2,189.1 639.8,189.1 640.5,189.2 C641.2,189.2 641.8,189.3 642.5,189.3 C643.2,189.2 643.8,189.2 644.5,189.1 C645.2,189.0 645.8,188.9 646.5,188.7 C647.2,188.5 647.8,188.2 648.5,187.9 C649.2,187.6 649.8,187.2 650.5,186.8 C651.2,186.4 651.8,185.8 652.5,185.2 C653.2,184.6 653.8,184.0 654.5,183.2 C655.2,182.4 655.8,181.6 656.5,180.7 C657.2,179.7 657.8,178.7 658.5,177.6 C659.2,176.5 659.8,175.4 660.5,174.1 C661.2,172.9 661.8,171.7 662.5,170.3 C663.2,169.0 663.8,167.6 664.5,166.3 C665.2,164.9 665.8,163.4 666.5,162.0 C667.2,160.5 667.8,159.0 668.5,157.6 C669.2,156.1 669.8,154.6 670.5,153.1 C671.2,151.6 671.8,150.1 672.5,148.6 C673.2,147.2 673.8,145.7 674.5,144.3 C675.2,142.8 675.8,141.4 676.5,140.0 C677.2,138.7 677.8,137.3 678.5,136.0 C679.2,134.6 679.8,133.3 680.5,131.9 C681.2,130.6 681.8,129.3 682.5,127.9 C683.2,126.6 683.8,125.2 684.5,123.9 C685.2,122.5 685.8,121.1 686.5,119.7 C687.2,118.3 687.8,116.9 688.5,115.4 C689.2,113.9 689.8,112.4 690.5,110.8 C691.2,109.2 691.8,107.6 692.5,106.0 C693.2,104.4 693.8,102.7 694.5,101.1 C695.2,99.4 695.8,97.8 696.5,96.2 C697.2,94.6 697.8,93.0 698.5,91.4 C699.2,89.9 699.8,88.4 700.5,87.0 C701.2,85.5 701.8,84.2 702.5,82.9 C703.2,81.6 703.8,80.4 704.5,79.4 C705.2,78.3 705.8,77.3 706.5,76.5 C707.2,75.7 707.8,75.0 708.5,74.4 C709.2,73.9 709.8,73.5 710.5,73.2 C711.2,72.9 711.8,72.8 712.5,72.7 C713.2,72.6 713.8,72.7 714.5,72.7 C715.2,72.8 715.8,72.9 716.5,73.1 C717.2,73.3 717.8,73.5 718.5,73.7 C719.2,73.9 719.8,74.2 720.5,74.5 C721.2,74.8 721.8,75.1 722.5,75.4 C723.2,75.8 723.8,76.2 724.5,76.6 C725.2,77.1 725.8,77.6 726.5,78.1 C727.2,78.6 727.8,79.2 728.5,79.8 C729.2,80.4 729.8,81.1 730.5,81.8 C731.2,82.5 731.8,83.3 732.5,84.1 C733.2,84.9 733.8,85.8 734.5,86.8 C735.2,87.7 735.8,88.7 736.5,89.8 C737.2,90.8 737.8,91.9 738.5,93.1 C739.2,94.2 739.8,95.4 740.5,96.7 C741.2,97.9 741.8,99.2 742.5,100.4 C743.2,101.7 743.8,103.0 744.5,104.4 C745.2,105.7 745.8,107.0 746.5,108.4 C747.2,109.7 747.8,111.0 748.5,112.4 C749.2,113.7 749.8,115.0 750.5,116.4 C751.2,117.7 751.8,119.0 752.5,120.3 C753.2,121.6 753.8,122.8 754.5,124.1 C755.2,125.4 755.8,126.6 756.5,127.9 C757.2,129.1 757.8,130.3 758.5,131.5 C759.2,132.7 759.8,133.9 760.5,135.1 C761.2,136.3 761.8,137.5 762.5,138.6 C763.2,139.8 763.8,140.9 764.5,142.1 C765.2,143.2 765.8,144.3 766.5,145.4 C767.2,146.5 767.8,147.6 768.5,148.7 C769.2,149.8 769.8,150.8 770.5,151.9 C771.2,153.0 771.8,154.0 772.5,155.0 C773.2,156.1 773.8,157.1 774.5,158.1 C775.2,159.1 775.8,160.1 776.5,161.1 C777.2,162.0 777.8,163.0 778.5,163.9 C779.2,164.9 779.8,165.8 780.5,166.8 C781.2,167.7 781.8,168.6 782.5,169.5 C783.2,170.4 783.8,171.3 784.5,172.2 C785.2,173.1 785.8,173.9 786.5,174.8 C787.2,175.6 787.8,176.5 788.5,177.3 C789.2,178.1 789.8,179.0 790.5,179.8 C791.2,180.6 791.8,181.4 792.5,182.2 C793.2,182.9 793.8,183.7 794.5,184.5 C795.2,185.2 795.8,186.0 796.5,186.7 C797.2,187.4 797.8,188.1 798.5,188.9 C799.2,189.6 799.8,190.3 800.5,191.0 C801.2,191.6 801.8,192.3 802.5,193.0 C803.2,193.6 803.8,194.3 804.5,194.9 C805.2,195.6 805.8,196.2 806.5,196.8 C807.2,197.4 807.8,198.0 808.5,198.6 C809.2,199.2 809.8,199.8 810.5,200.4 C811.2,200.9 811.8,201.5 812.5,202.0 C813.2,202.6 813.8,203.1 814.5,203.6 C815.2,204.1 815.8,204.7 816.5,205.2 C817.2,205.7 817.8,206.1 818.5,206.6 C819.2,207.1 819.8,207.6 820.5,208.0 C821.2,208.5 821.8,208.9 822.5,209.4 C823.2,209.8 823.8,210.2 824.5,210.6 C825.2,211.0 825.8,211.4 826.5,211.8 C827.2,212.2 827.8,212.6 828.5,212.9 C829.2,213.3 829.8,213.7 830.5,214.0 C831.2,214.4 831.8,214.7 832.5,215.0 C833.2,215.3 833.8,215.6 834.5,215.9 C835.2,216.2 835.8,216.5 836.5,216.8 C837.2,217.1 837.8,217.4 838.5,217.6 C839.2,217.9 839.8,218.1 840.5,218.4 C841.2,218.6 841.8,218.8 842.5,219.0 C843.2,219.2 843.8,219.5 844.5,219.6 C845.2,219.8 845.8,220.0 846.5,220.2 C847.2,220.4 847.8,220.5 848.5,220.7 C849.2,220.8 849.8,221.0 850.5,221.1 C851.2,221.2 851.8,221.4 852.5,221.5 C853.2,221.6 853.8,221.7 854.5,221.8 C855.2,221.9 855.8,222.0 856.5,222.0 C857.2,222.1 857.8,222.2 858.5,222.2 C859.2,222.3 859.8,222.3 860.5,222.3 C861.2,222.4 861.8,222.4 862.5,222.4 C863.2,222.4 863.8,222.4 864.5,222.4 C865.2,222.4 865.8,222.4 866.5,222.3 C867.2,222.3 868.1,222.2 868.5,222.2 C868.9,222.2 868.9,222.2 869.0,222.2" fill="none" stroke="#2b8a3e" stroke-width="7" stroke-linejoin="round" />
<path d="M556.5,181.1 C556.8,182.4 557.8,186.8 558.5,189.3 C559.2,191.9 559.8,194.2 560.5,196.3 C561.2,198.4 561.8,200.3 562.5,202.1 C563.2,203.9 563.8,205.6 564.5,207.1 C565.2,208.6 565.8,210.0 566.5,211.3 C567.2,212.7 567.8,213.9 568.5,215.1 C569.2,216.3 569.8,217.4 570.5,218.6 C571.2,219.7 571.8,220.8 572.5,221.8 C573.2,222.9 573.8,223.9 574.5,224.9 C575.2,225.8 575.8,226.7 576.5,227.5 C577.2,228.4 577.8,229.1 578.5,229.8 C579.2,230.5 579.8,231.1 580.5,231.7 C581.2,232.3 581.8,232.8 582.5,233.2 C583.2,233.7 583.8,234.1 584.5,234.4 C585.2,234.7 585.8,235.0 586.5,235.2 C587.2,235.4 587.8,235.6 588.5,235.7 C589.2,235.8 589.8,235.9 590.5,235.9 C591.2,235.9 591.8,235.9 592.5,235.8 C593.2,235.7 593.8,235.6 594.5,235.4 C595.2,235.2 595.8,235.0 596.5,234.8 C597.2,234.5 597.8,234.2 598.5,233.9 C599.2,233.6 599.8,233.3 600.5,232.9 C601.2,232.5 601.8,232.1 602.5,231.6 C603.2,231.1 603.8,230.6 604.5,230.0 C605.2,229.5 605.8,228.9 606.5,228.2 C607.2,227.5 607.8,226.7 608.5,225.9 C609.2,225.1 609.8,224.2 610.5,223.3 C611.2,222.3 611.8,221.3 612.5,220.1 C613.2,219.0 613.8,217.8 614.5,216.5 C615.2,215.2 615.8,213.7 616.5,212.3 C617.2,210.9 617.8,209.3 618.5,207.9 C619.2,206.4 619.8,204.9 620.5,203.6 C621.2,202.2 621.8,200.9 622.5,199.7 C623.2,198.5 623.8,197.5 624.5,196.5 C625.2,195.6 625.8,194.7 626.5,194.0 C627.2,193.2 627.8,192.6 628.5,192.0 C629.2,191.4 629.8,191.0 630.5,190.6 C631.2,190.2 631.8,189.8 632.5,189.6 C633.2,189.3 633.8,189.2 634.5,189.0 C635.2,188.9 635.8,188.9 636.5,188.9 C637.2,188.8 637.8,188.9 638.5,189.0 C639.2,189.1 639.8,189.2 640.5,189.3 C641.2,189.4 641.8,189.6 642.5,189.7 C643.2,189.8 643.8,190.0 644.5,190.1 C645.2,190.2 645.8,190.3 646.5,190.3 C647.2,190.3 647.8,190.3 648.5,190.2 C649.2,190.1 649.8,189.9 650.5,189.7 C651.2,189.4 651.8,189.1 652.5,188.6 C653.2,188.2 653.8,187.7 654.5,187.0 C655.2,186.3 655.8,185.4 656.5,184.5 C657.2,183.6 657.8,182.5 658.5,181.4 C659.2,180.3 659.8,179.1 660.5,177.9 C661.2,176.7 661.8,175.5 662.5,174.3 C663.2,173.0 663.8,171.8 664.5,170.5 C665.2,169.3 665.8,168.0 666.5,166.7 C667.2,165.4 667.8,164.1 668.5,162.7 C669.2,161.2 669.8,159.8 670.5,158.2 C671.2,156.7 671.8,155.0 672.5,153.4 C673.2,151.8 673.8,150.1 674.5,148.5 C675.2,146.9 675.8,145.3 676.5,143.8 C677.2,142.3 677.8,140.8 678.5,139.5 C679.2,138.2 679.8,137.0 680.5,135.9 C681.2,134.7 681.8,133.7 682.5,132.6 C683.2,131.5 683.8,130.4 684.5,129.3 C685.2,128.1 685.8,127.0 686.5,125.6 C687.2,124.3 687.8,123.0 688.5,121.4 C689.2,119.9 689.8,118.2 690.5,116.3 C691.2,114.4 691.8,112.3 692.5,110.2 C693.2,108.0 693.8,105.7 694.5,103.4 C695.2,101.1 695.8,98.7 696.5,96.4 C697.2,94.1 697.8,91.7 698.5,89.5 C699.2,87.2 699.8,85.0 700.5,82.9 C701.2,80.8 701.8,78.8 702.5,76.9 C703.2,75.0 703.8,73.2 704.5,71.5 C705.2,69.9 705.8,68.3 706.5,67.0 C707.2,65.6 707.8,64.4 708.5,63.4 C709.2,62.3 709.8,61.4 710.5,60.7 C711.2,59.9 711.8,59.3 712.5,58.9 C713.2,58.4 713.8,58.1 714.5,57.9 C715.2,57.7 715.8,57.7 716.5,57.8 C717.2,57.9 717.8,58.1 718.5,58.4 C719.2,58.8 719.8,59.3 720.5,59.9 C721.2,60.4 721.8,61.2 722.5,62.0 C723.2,62.8 723.8,63.8 724.5,64.8 C725.2,65.9 725.8,67.0 726.5,68.3 C727.2,69.6 727.8,70.9 728.5,72.4 C729.2,73.9 729.8,75.4 730.5,77.1 C731.2,78.8 731.8,80.5 732.5,82.4 C733.2,84.2 733.8,86.1 734.5,88.0 C735.2,89.9 735.8,91.9 736.5,93.9 C737.2,95.9 737.8,97.8 738.5,99.8 C739.2,101.7 739.8,103.6 740.5,105.4 C741.2,107.3 741.8,109.0 742.5,110.7 C743.2,112.4 743.8,114.0 744.5,115.6 C745.2,117.1 745.8,118.6 746.5,120.1 C747.2,121.6 747.8,123.0 748.5,124.4 C749.2,125.8 749.8,127.2 750.5,128.6 C751.2,129.9 751.8,131.3 752.5,132.6 C753.2,134.0 753.8,135.3 754.5,136.6 C755.2,137.9 755.8,139.2 756.5,140.4 C757.2,141.7 757.8,142.9 758.5,144.2 C759.2,145.4 759.8,146.6 760.5,147.8 C761.2,149.0 761.8,150.2 762.5,151.3 C763.2,152.5 763.8,153.6 764.5,154.7 C765.2,155.8 765.8,156.9 766.5,158.0 C767.2,159.1 767.8,160.2 768.5,161.2 C769.2,162.2 769.8,163.3 770.5,164.3 C771.2,165.3 771.8,166.3 772.5,167.3 C773.2,168.2 773.8,169.2 774.5,170.1 C775.2,171.1 775.8,172.0 776.5,172.9 C777.2,173.8 777.8,174.7 778.5,175.6 C779.2,176.5 779.8,177.3 780.5,178.2 C781.2,179.0 781.8,179.9 782.5,180.7 C783.2,181.5 783.8,182.3 784.5,183.1 C785.2,183.9 785.8,184.6 786.5,185.4 C787.2,186.1 787.8,186.9 788.5,187.6 C789.2,188.3 789.8,189.0 790.5,189.7 C791.2,190.4 791.8,191.1 792.5,191.8 C793.2,192.5 793.8,193.1 794.5,193.8 C795.2,194.4 795.8,195.0 796.5,195.7 C797.2,196.3 797.8,196.9 798.5,197.5 C799.2,198.1 799.8,198.6 800.5,199.2 C801.2,199.8 801.8,200.3 802.5,200.9 C803.2,201.4 803.8,201.9 804.5,202.4 C805.2,203.0 805.8,203.5 806.5,204.0 C807.2,204.5 807.8,204.9 808.5,205.4 C809.2,205.9 809.8,206.3 810.5,206.8 C811.2,207.2 811.8,207.7 812.5,208.1 C813.2,208.5 813.8,209.0 814.5,209.4 C815.2,209.8 815.8,210.2 816.5,210.6 C817.2,210.9 817.8,211.3 818.5,211.7 C819.2,212.1 819.8,212.4 820.5,212.8 C821.2,213.1 821.8,213.4 822.5,213.8 C823.2,214.1 823.8,214.4 824.5,214.7 C825.2,215.1 825.8,215.4 826.5,215.7 C827.2,216.0 827.8,216.2 828.5,216.5 C829.2,216.8 829.8,217.1 830.5,217.3 C831.2,217.6 831.8,217.9 832.5,218.1 C833.2,218.4 833.8,218.6 834.5,218.8 C835.2,219.1 835.8,219.3 836.5,219.5 C837.2,219.8 837.8,220.0 838.5,220.2 C839.2,220.4 839.8,220.6 840.5,220.8 C841.2,221.0 841.8,221.2 842.5,221.4 C843.2,221.5 843.8,221.7 844.5,221.9 C845.2,222.1 845.8,222.2 846.5,222.4 C847.2,222.6 847.8,222.7 848.5,222.9 C849.2,223.0 849.8,223.2 850.5,223.3 C851.2,223.5 851.8,223.6 852.5,223.8 C853.2,223.9 853.8,224.0 854.5,224.2 C855.2,224.3 855.8,224.4 856.5,224.5 C857.2,224.6 857.8,224.8 858.5,224.9 C859.2,225.0 859.8,225.1 860.5,225.2 C861.2,225.3 861.8,225.4 862.5,225.5 C863.2,225.6 863.8,225.7 864.5,225.8 C865.2,225.9 865.8,226.0 866.5,226.1 C867.2,226.2 868.1,226.4 868.5,226.4 C868.9,226.5 868.9,226.5 869.0,226.5" fill="none" stroke="#111" stroke-width="5.5" stroke-linejoin="round" stroke-dasharray="3.6 2.4" clip-path="url(#peakclip)"/>
<rect x="556" y="43.8" width="313.6" height="273.2" fill="none" stroke="#1a1a1a" stroke-width="3.5"/>
<text x="541.47" y="340.3" font-size="22.00" textLength="28.86" lengthAdjust="spacingAndGlyphs" fill="#111" stroke="#111" stroke-width="0.3">3.4</text>
<text x="604.29" y="340.3" font-size="22.00" textLength="28.86" lengthAdjust="spacingAndGlyphs" fill="#111" stroke="#111" stroke-width="0.3">3.6</text>
<text x="667.01" y="340.3" font-size="22.00" textLength="28.86" lengthAdjust="spacingAndGlyphs" fill="#111" stroke="#111" stroke-width="0.3">3.8</text>
<text x="738.50" y="340.3" font-size="22.00" textLength="11.55" lengthAdjust="spacingAndGlyphs" fill="#111" stroke="#111" stroke-width="0.3">4</text>
<text x="792.76" y="340.3" font-size="22.00" textLength="28.86" lengthAdjust="spacingAndGlyphs" fill="#111" stroke="#111" stroke-width="0.3">4.2</text>
<text x="855.27" y="340.3" font-size="22.00" textLength="28.86" lengthAdjust="spacingAndGlyphs" fill="#111" stroke="#111" stroke-width="0.3">4.4</text>
<text x="507.33" y="50.98" font-size="21.55" fill="#111" stroke="#111" stroke-width="0.3" textLength="24.69" lengthAdjust="spacingAndGlyphs">10</text>
<text x="531.12" y="43.60" font-size="13.04" fill="#111" stroke="#111" stroke-width="0.3" textLength="18.74" lengthAdjust="spacingAndGlyphs">-17</text>
<text x="507.33" y="186.78" font-size="22.11" fill="#111" stroke="#111" stroke-width="0.3" textLength="24.69" lengthAdjust="spacingAndGlyphs">10</text>
<text x="531.12" y="179.27" font-size="13.24" fill="#111" stroke="#111" stroke-width="0.3" textLength="18.60" lengthAdjust="spacingAndGlyphs">-18</text>
<text x="507.33" y="321.98" font-size="21.55" fill="#111" stroke="#111" stroke-width="0.3" textLength="24.69" lengthAdjust="spacingAndGlyphs">10</text>
<text x="531.12" y="314.57" font-size="12.96" fill="#111" stroke="#111" stroke-width="0.3" textLength="18.67" lengthAdjust="spacingAndGlyphs">-19</text>
<text x="573.65" y="79.90" font-size="22.32" font-weight="bold" fill="#111" stroke="#111" stroke-width="0.55" textLength="15.04" lengthAdjust="spacingAndGlyphs">B</text>
<text x="592.00" y="79.95" font-size="20.31" fill="#111" stroke="#111" stroke-width="0.1" textLength="15.17" lengthAdjust="spacingAndGlyphs">=</text>
<text x="611.28" y="79.68" font-size="22.39" fill="#111" stroke="#111" stroke-width="0.3" textLength="41.26" lengthAdjust="spacingAndGlyphs">0.5T</text>
<rect x="587.7" y="87" width="43.1" height="4.5" fill="#111"/>
<text x="800.68" y="77.90" font-size="20.43" font-weight="bold" fill="#111" stroke="#111" stroke-width="0.55" textLength="14.68" lengthAdjust="spacingAndGlyphs">B</text>
<text x="818.49" y="79.55" font-size="20.31" fill="#111" stroke="#111" stroke-width="0.1" textLength="15.29" lengthAdjust="spacingAndGlyphs">=</text>
<text x="837.45" y="77.70" font-size="19.86" fill="#111" stroke="#111" stroke-width="0.3" textLength="13.21" lengthAdjust="spacingAndGlyphs">0</text>
<line x1="803.3" y1="87.7" x2="851.6" y2="87.7" stroke="#111" stroke-width="5" stroke-dasharray="3.2 2.2"/>
<text x="589.64" y="173.68" font-size="21.63" fill="#2b8a3e" stroke="#2b8a3e" stroke-width="0.3" textLength="45.84" lengthAdjust="spacingAndGlyphs">total</text>
<text x="634.07" y="271.60" font-size="21.93" font-weight="bold" fill="#3f5fae" stroke="#3f5fae" stroke-width="0.55" textLength="13.76" lengthAdjust="spacingAndGlyphs">k</text>
<text x="646.60" y="279.69" font-size="13.37" fill="#3f5fae" stroke="#3f5fae" stroke-width="0.3" textLength="10.39" lengthAdjust="spacingAndGlyphs">||</text>
<text x="657.24" y="261.45" font-size="10.70" font-weight="bold" fill="#3f5fae" stroke="#3f5fae" stroke-width="0.15" textLength="11.10" lengthAdjust="spacingAndGlyphs">(-)</text>
<text x="766.63" y="271.50" font-size="23.03" font-weight="bold" fill="#8e1b25" stroke="#8e1b25" stroke-width="0.55" textLength="13.30" lengthAdjust="spacingAndGlyphs">k</text>
<text x="779.01" y="279.34" font-size="13.16" fill="#8e1b25" stroke="#8e1b25" stroke-width="0.3" textLength="9.17" lengthAdjust="spacingAndGlyphs">||</text>
<text x="787.52" y="262.55" font-size="10.70" font-weight="bold" fill="#8e1b25" stroke="#8e1b25" stroke-width="0.15" textLength="17.07" lengthAdjust="spacingAndGlyphs">(+)</text>
<text x="604.20" y="19.04" font-size="25.58" font-weight="bold" fill="#111" stroke="#111" stroke-width="0.55" textLength="16.93" lengthAdjust="spacingAndGlyphs">b</text>
<text x="621.50" y="17.29" font-size="23.85" font-weight="bold" fill="#111" stroke="#111" stroke-width="0.55" textLength="7.48" lengthAdjust="spacingAndGlyphs">)</text>
<text x="639.72" y="19.10" font-size="25.80" fill="#111" stroke="#111" stroke-width="0.3" textLength="168.11" lengthAdjust="spacingAndGlyphs">Energy Density</text>
<text x="625.12" y="371.35" font-size="24.55" font-style="italic" fill="#111" stroke="#111" stroke-width="0.3" textLength="20.12" lengthAdjust="spacingAndGlyphs">ω</text>
<text x="651.32" y="371.60" font-size="27.54" fill="#111" stroke="#111" stroke-width="0.3" textLength="9.30" lengthAdjust="spacingAndGlyphs">(</text>
<text x="659.36" y="373.27" font-size="20.67" fill="#111" stroke="#111" stroke-width="0.3" textLength="13.65" lengthAdjust="spacingAndGlyphs">×</text>
<text x="673.30" y="371.33" font-size="27.32" fill="#111" stroke="#111" stroke-width="0.3" textLength="29.70" lengthAdjust="spacingAndGlyphs">10</text>
<text x="705.83" y="362.23" font-size="17.18" fill="#111" stroke="#111" stroke-width="0.3" textLength="14.42" lengthAdjust="spacingAndGlyphs">13</text>
<text x="727.69" y="371.60" font-size="27.54" fill="#111" stroke="#111" stroke-width="0.3" textLength="71.32" lengthAdjust="spacingAndGlyphs">rad/s)</text>
<text x="-270.08" y="499.30" transform="rotate(-90)" font-size="28.00" font-style="italic" textLength="25.34" lengthAdjust="spacingAndGlyphs" fill="#111111" stroke="#111111" stroke-width="0.3">W</text>
<text x="-231.32" y="499.30" transform="rotate(-90)" font-size="28.00" textLength="126.79" lengthAdjust="spacingAndGlyphs" fill="#111111" stroke="#111111" stroke-width="0.3">(Js / rad.m</text>
<text x="-104.53" y="489.22" transform="rotate(-90)" font-size="17.36" textLength="9.26" lengthAdjust="spacingAndGlyphs" fill="#111111" stroke="#111111" stroke-width="0.3">3</text>
<text x="-92.05" y="499.30" transform="rotate(-90)" font-size="28.00" textLength="8.94" lengthAdjust="spacingAndGlyphs" fill="#111111" stroke="#111111" stroke-width="0.3">)</text>
<line x1="979.1" y1="170.3" x2="1293" y2="170.3" stroke="#999" stroke-width="1.6"/>
<line x1="1041.9" y1="43.0" x2="1041.9" y2="54.0" stroke="#1a1a1a" stroke-width="2"/>
<line x1="1041.9" y1="316.6" x2="1041.9" y2="305.6" stroke="#1a1a1a" stroke-width="2"/>
<line x1="1104.7" y1="43.0" x2="1104.7" y2="54.0" stroke="#1a1a1a" stroke-width="2"/>
<line x1="1104.7" y1="316.6" x2="1104.7" y2="305.6" stroke="#1a1a1a" stroke-width="2"/>
<line x1="1167.4" y1="43.0" x2="1167.4" y2="54.0" stroke="#1a1a1a" stroke-width="2"/>
<line x1="1167.4" y1="316.6" x2="1167.4" y2="305.6" stroke="#1a1a1a" stroke-width="2"/>
<line x1="1230.2" y1="43.0" x2="1230.2" y2="54.0" stroke="#1a1a1a" stroke-width="2"/>
<line x1="1230.2" y1="316.6" x2="1230.2" y2="305.6" stroke="#1a1a1a" stroke-width="2"/>
<line x1="979.1" y1="279.3" x2="989.1" y2="279.3" stroke="#1a1a1a" stroke-width="2"/>
<line x1="1293.0" y1="279.3" x2="1283.0" y2="279.3" stroke="#1a1a1a" stroke-width="2"/>
<line x1="979.1" y1="243.0" x2="989.1" y2="243.0" stroke="#1a1a1a" stroke-width="2"/>
<line x1="1293.0" y1="243.0" x2="1283.0" y2="243.0" stroke="#1a1a1a" stroke-width="2"/>
<line x1="979.1" y1="206.6" x2="989.1" y2="206.6" stroke="#1a1a1a" stroke-width="2"/>
<line x1="1293.0" y1="206.6" x2="1283.0" y2="206.6" stroke="#1a1a1a" stroke-width="2"/>
<line x1="979.1" y1="170.3" x2="989.1" y2="170.3" stroke="#1a1a1a" stroke-width="2"/>
<line x1="1293.0" y1="170.3" x2="1283.0" y2="170.3" stroke="#1a1a1a" stroke-width="2"/>
<line x1="979.1" y1="134.0" x2="989.1" y2="134.0" stroke="#1a1a1a" stroke-width="2"/>
<line x1="1293.0" y1="134.0" x2="1283.0" y2="134.0" stroke="#1a1a1a" stroke-width="2"/>
<line x1="979.1" y1="97.6" x2="989.1" y2="97.6" stroke="#1a1a1a" stroke-width="2"/>
<line x1="1293.0" y1="97.6" x2="1283.0" y2="97.6" stroke="#1a1a1a" stroke-width="2"/>
<line x1="979.1" y1="61.3" x2="989.1" y2="61.3" stroke="#1a1a1a" stroke-width="2"/>
<line x1="1293.0" y1="61.3" x2="1283.0" y2="61.3" stroke="#1a1a1a" stroke-width="2"/>
<path d="M979.7,155.9 C980.0,156.1 981.0,156.8 981.7,157.3 C982.4,157.7 983.0,158.1 983.7,158.5 C984.4,158.9 985.0,159.3 985.7,159.7 C986.4,160.0 987.0,160.4 987.7,160.7 C988.4,161.0 989.0,161.3 989.7,161.6 C990.4,161.8 991.0,162.1 991.7,162.3 C992.4,162.6 993.0,162.8 993.7,163.0 C994.4,163.2 995.0,163.4 995.7,163.5 C996.4,163.7 997.0,163.9 997.7,164.0 C998.4,164.1 999.0,164.2 999.7,164.4 C1000.4,164.5 1001.0,164.5 1001.7,164.6 C1002.4,164.7 1003.0,164.8 1003.7,164.8 C1004.4,164.9 1005.0,164.9 1005.7,165.0 C1006.4,165.0 1007.0,165.0 1007.7,165.0 C1008.4,165.0 1009.0,165.0 1009.7,165.0 C1010.4,165.0 1011.0,165.0 1011.7,164.9 C1012.4,164.9 1013.0,164.9 1013.7,164.8 C1014.4,164.8 1015.0,164.7 1015.7,164.7 C1016.4,164.6 1017.0,164.6 1017.7,164.5 C1018.4,164.4 1019.0,164.3 1019.7,164.3 C1020.4,164.2 1021.0,164.1 1021.7,164.0 C1022.4,163.9 1023.0,163.8 1023.7,163.7 C1024.4,163.6 1025.0,163.6 1025.7,163.5 C1026.4,163.4 1027.0,163.3 1027.7,163.2 C1028.4,163.1 1029.0,163.0 1029.7,162.9 C1030.4,162.8 1031.0,162.7 1031.7,162.6 C1032.4,162.5 1033.0,162.4 1033.7,162.3 C1034.4,162.2 1035.0,162.1 1035.7,162.0 C1036.4,162.0 1037.0,161.9 1037.7,161.8 C1038.4,161.7 1039.0,161.7 1039.7,161.6 C1040.4,161.5 1041.0,161.5 1041.7,161.4 C1042.4,161.4 1043.0,161.3 1043.7,161.3 C1044.4,161.2 1045.0,161.2 1045.7,161.1 C1046.4,161.1 1047.0,161.0 1047.7,161.0 C1048.4,161.0 1049.0,160.9 1049.7,160.9 C1050.4,160.8 1051.0,160.8 1051.7,160.7 C1052.4,160.7 1053.0,160.6 1053.7,160.6 C1054.4,160.5 1055.0,160.5 1055.7,160.4 C1056.4,160.4 1057.0,160.3 1057.7,160.2 C1058.4,160.1 1059.0,160.1 1059.7,160.0 C1060.4,159.9 1061.0,159.8 1061.7,159.7 C1062.4,159.6 1063.0,159.5 1063.7,159.3 C1064.4,159.2 1065.0,159.1 1065.7,158.9 C1066.4,158.7 1067.0,158.6 1067.7,158.4 C1068.4,158.2 1069.0,158.0 1069.7,157.8 C1070.4,157.6 1071.0,157.4 1071.7,157.1 C1072.4,156.9 1073.0,156.6 1073.7,156.3 C1074.4,156.1 1075.0,155.8 1075.7,155.4 C1076.4,155.1 1077.0,154.8 1077.7,154.4 C1078.4,154.1 1079.0,153.7 1079.7,153.3 C1080.4,152.9 1081.0,152.4 1081.7,152.0 C1082.4,151.5 1083.0,151.1 1083.7,150.6 C1084.4,150.1 1085.0,149.5 1085.7,149.0 C1086.4,148.4 1087.0,147.8 1087.7,147.2 C1088.4,146.6 1089.0,146.0 1089.7,145.3 C1090.4,144.6 1091.0,143.9 1091.7,143.2 C1092.4,142.4 1093.0,141.7 1093.7,140.8 C1094.4,140.0 1095.0,139.1 1095.7,138.2 C1096.4,137.2 1097.0,136.2 1097.7,135.2 C1098.4,134.1 1099.0,132.9 1099.7,131.7 C1100.4,130.5 1101.0,129.1 1101.7,127.7 C1102.4,126.3 1103.0,124.8 1103.7,123.3 C1104.4,121.8 1105.0,120.2 1105.7,118.6 C1106.4,117.0 1107.0,115.3 1107.7,113.7 C1108.4,112.1 1109.0,110.4 1109.7,108.8 C1110.4,107.1 1111.0,105.4 1111.7,103.6 C1112.4,101.8 1113.0,100.0 1113.7,98.0 C1114.4,96.0 1115.0,93.9 1115.7,91.6 C1116.4,89.3 1117.0,86.8 1117.7,84.2 C1118.4,81.7 1119.0,79.0 1119.7,76.4 C1120.4,73.9 1121.0,71.2 1121.7,68.8 C1122.4,66.4 1123.0,64.1 1123.7,62.1 C1124.4,60.1 1125.0,58.3 1125.7,56.9 C1126.4,55.5 1127.0,54.4 1127.7,53.7 C1128.4,53.1 1129.0,52.9 1129.7,53.1 C1130.4,53.4 1131.0,54.1 1131.7,55.0 C1132.4,55.9 1133.0,57.2 1133.7,58.7 C1134.4,60.1 1135.0,61.8 1135.7,63.6 C1136.4,65.4 1137.0,67.4 1137.7,69.5 C1138.4,71.6 1139.0,73.8 1139.7,76.1 C1140.4,78.4 1141.0,80.8 1141.7,83.3 C1142.4,85.7 1143.0,88.2 1143.7,90.7 C1144.4,93.2 1145.0,95.8 1145.7,98.3 C1146.4,100.8 1147.0,103.3 1147.7,105.7 C1148.4,108.1 1149.0,110.5 1149.7,112.8 C1150.4,115.0 1151.0,117.2 1151.7,119.2 C1152.4,121.3 1153.0,123.1 1153.7,124.8 C1154.4,126.5 1155.0,128.0 1155.7,129.4 C1156.4,130.8 1157.0,132.0 1157.7,133.1 C1158.4,134.3 1159.0,135.2 1159.7,136.2 C1160.4,137.1 1161.0,137.9 1161.7,138.6 C1162.4,139.4 1163.0,140.0 1163.7,140.7 C1164.4,141.3 1165.0,141.9 1165.7,142.4 C1166.4,143.0 1167.0,143.6 1167.7,144.1 C1168.4,144.6 1169.0,145.2 1169.7,145.7 C1170.4,146.2 1171.0,146.7 1171.7,147.2 C1172.4,147.6 1173.0,148.1 1173.7,148.6 C1174.4,149.0 1175.0,149.5 1175.7,149.9 C1176.4,150.3 1177.0,150.8 1177.7,151.2 C1178.4,151.6 1179.0,152.0 1179.7,152.4 C1180.4,152.7 1181.0,153.1 1181.7,153.5 C1182.4,153.8 1183.0,154.2 1183.7,154.5 C1184.4,154.9 1185.0,155.2 1185.7,155.5 C1186.4,155.8 1187.0,156.2 1187.7,156.5 C1188.4,156.8 1189.0,157.0 1189.7,157.3 C1190.4,157.6 1191.0,157.9 1191.7,158.1 C1192.4,158.4 1193.0,158.6 1193.7,158.9 C1194.4,159.1 1195.0,159.3 1195.7,159.6 C1196.4,159.8 1197.0,160.0 1197.7,160.2 C1198.4,160.4 1199.0,160.6 1199.7,160.8 C1200.4,161.0 1201.0,161.2 1201.7,161.3 C1202.4,161.5 1203.0,161.7 1203.7,161.8 C1204.4,162.0 1205.0,162.1 1205.7,162.3 C1206.4,162.4 1207.0,162.6 1207.7,162.7 C1208.4,162.8 1209.0,162.9 1209.7,163.0 C1210.4,163.2 1211.0,163.3 1211.7,163.4 C1212.4,163.5 1213.0,163.6 1213.7,163.7 C1214.4,163.8 1215.0,163.8 1215.7,163.9 C1216.4,164.0 1217.0,164.1 1217.7,164.1 C1218.4,164.2 1219.0,164.3 1219.7,164.3 C1220.4,164.4 1221.0,164.4 1221.7,164.5 C1222.4,164.5 1223.0,164.6 1223.7,164.6 C1224.4,164.7 1225.0,164.7 1225.7,164.7 C1226.4,164.8 1227.0,164.8 1227.7,164.8 C1228.4,164.9 1229.0,164.9 1229.7,164.9 C1230.4,164.9 1231.0,164.9 1231.7,164.9 C1232.4,165.0 1233.0,165.0 1233.7,165.0 C1234.4,165.0 1235.0,165.0 1235.7,165.0 C1236.4,165.0 1237.0,165.0 1237.7,165.0 C1238.4,165.0 1239.0,165.0 1239.7,165.0 C1240.4,165.0 1241.0,165.0 1241.7,165.0 C1242.4,165.0 1243.0,165.0 1243.7,165.0 C1244.4,165.0 1245.0,165.0 1245.7,165.0 C1246.4,165.0 1247.0,165.0 1247.7,164.9 C1248.4,164.9 1249.0,164.9 1249.7,164.9 C1250.4,164.9 1251.0,164.9 1251.7,164.9 C1252.4,164.9 1253.0,164.9 1253.7,164.9 C1254.4,164.9 1255.0,164.9 1255.7,164.9 C1256.4,164.9 1257.0,164.9 1257.7,164.9 C1258.4,164.9 1259.0,164.9 1259.7,164.9 C1260.4,164.9 1261.0,164.9 1261.7,164.9 C1262.4,164.9 1263.0,164.9 1263.7,165.0 C1264.4,165.0 1265.0,165.0 1265.7,165.0 C1266.4,165.0 1267.0,165.1 1267.7,165.1 C1268.4,165.1 1269.0,165.2 1269.7,165.2 C1270.4,165.2 1271.0,165.3 1271.7,165.3 C1272.4,165.3 1273.0,165.4 1273.7,165.4 C1274.4,165.5 1275.0,165.6 1275.7,165.6 C1276.4,165.7 1277.0,165.7 1277.7,165.8 C1278.4,165.9 1279.0,166.0 1279.7,166.0 C1280.4,166.1 1281.0,166.2 1281.7,166.3 C1282.4,166.4 1283.0,166.5 1283.7,166.6 C1284.4,166.7 1285.0,166.8 1285.7,166.9 C1286.4,167.1 1287.0,167.2 1287.7,167.3 C1288.4,167.5 1289.0,167.6 1289.7,167.7 C1290.4,167.9 1291.3,168.1 1291.7,168.2 C1292.1,168.3 1292.0,168.3 1292.0,168.3" fill="none" stroke="#8e1b25" stroke-width="7" stroke-linejoin="round" />
<path d="M978.7,188.0 C979.0,187.6 980.0,186.6 980.7,186.0 C981.4,185.4 982.0,184.9 982.7,184.3 C983.4,183.8 984.0,183.3 984.7,182.8 C985.4,182.4 986.0,181.9 986.7,181.5 C987.4,181.1 988.0,180.7 988.7,180.4 C989.4,180.0 990.0,179.7 990.7,179.4 C991.4,179.1 992.0,178.8 992.7,178.5 C993.4,178.3 994.0,178.1 994.7,177.9 C995.4,177.6 996.0,177.5 996.7,177.3 C997.4,177.1 998.0,177.0 998.7,176.9 C999.4,176.7 1000.0,176.6 1000.7,176.5 C1001.4,176.4 1002.0,176.3 1002.7,176.3 C1003.4,176.2 1004.0,176.2 1004.7,176.1 C1005.4,176.1 1006.0,176.1 1006.7,176.0 C1007.4,176.0 1008.0,176.0 1008.7,176.0 C1009.4,176.0 1010.0,176.0 1010.7,176.0 C1011.4,176.0 1012.0,176.1 1012.7,176.1 C1013.4,176.1 1014.0,176.2 1014.7,176.2 C1015.4,176.2 1016.0,176.2 1016.7,176.3 C1017.4,176.3 1018.0,176.4 1018.7,176.4 C1019.4,176.4 1020.0,176.5 1020.7,176.5 C1021.4,176.5 1022.0,176.5 1022.7,176.6 C1023.4,176.6 1024.0,176.6 1024.7,176.6 C1025.4,176.6 1026.0,176.7 1026.7,176.7 C1027.4,176.7 1028.0,176.7 1028.7,176.7 C1029.4,176.7 1030.0,176.8 1030.7,176.8 C1031.4,176.8 1032.0,176.8 1032.7,176.8 C1033.4,176.8 1034.0,176.8 1034.7,176.8 C1035.4,176.9 1036.0,176.9 1036.7,176.9 C1037.4,176.9 1038.0,176.9 1038.7,176.9 C1039.4,176.9 1040.0,177.0 1040.7,177.0 C1041.4,177.0 1042.0,177.0 1042.7,177.0 C1043.4,177.1 1044.0,177.1 1044.7,177.1 C1045.4,177.1 1046.0,177.2 1046.7,177.2 C1047.4,177.2 1048.0,177.2 1048.7,177.3 C1049.4,177.3 1050.0,177.3 1050.7,177.4 C1051.4,177.4 1052.0,177.5 1052.7,177.5 C1053.4,177.6 1054.0,177.6 1054.7,177.7 C1055.4,177.7 1056.0,177.8 1056.7,177.9 C1057.4,177.9 1058.0,178.0 1058.7,178.1 C1059.4,178.1 1060.0,178.2 1060.7,178.3 C1061.4,178.4 1062.0,178.5 1062.7,178.6 C1063.4,178.7 1064.0,178.8 1064.7,178.9 C1065.4,179.0 1066.0,179.1 1066.7,179.2 C1067.4,179.4 1068.0,179.5 1068.7,179.6 C1069.4,179.8 1070.0,179.9 1070.7,180.0 C1071.4,180.2 1072.0,180.3 1072.7,180.5 C1073.4,180.7 1074.0,180.8 1074.7,181.0 C1075.4,181.2 1076.0,181.4 1076.7,181.6 C1077.4,181.8 1078.0,182.0 1078.7,182.2 C1079.4,182.4 1080.0,182.6 1080.7,182.9 C1081.4,183.1 1082.0,183.4 1082.7,183.6 C1083.4,183.9 1084.0,184.1 1084.7,184.4 C1085.4,184.7 1086.0,184.9 1086.7,185.2 C1087.4,185.5 1088.0,185.8 1088.7,186.2 C1089.4,186.5 1090.0,186.8 1090.7,187.1 C1091.4,187.5 1092.0,187.8 1092.7,188.2 C1093.4,188.5 1094.0,188.9 1094.7,189.3 C1095.4,189.6 1096.0,190.0 1096.7,190.4 C1097.4,190.8 1098.0,191.2 1098.7,191.6 C1099.4,192.1 1100.0,192.5 1100.7,192.9 C1101.4,193.4 1102.0,193.8 1102.7,194.3 C1103.4,194.8 1104.0,195.3 1104.7,195.8 C1105.4,196.3 1106.0,196.9 1106.7,197.5 C1107.4,198.1 1108.0,198.7 1108.7,199.5 C1109.4,200.2 1110.0,200.9 1110.7,201.7 C1111.4,202.5 1112.0,203.4 1112.7,204.3 C1113.4,205.3 1114.0,206.3 1114.7,207.4 C1115.4,208.5 1116.0,209.7 1116.7,210.9 C1117.4,212.2 1118.0,213.5 1118.7,215.0 C1119.4,216.4 1120.0,217.9 1120.7,219.4 C1121.4,221.0 1122.0,222.6 1122.7,224.2 C1123.4,225.9 1124.0,227.6 1124.7,229.3 C1125.4,231.1 1126.0,232.9 1126.7,234.7 C1127.4,236.5 1128.0,238.3 1128.7,240.2 C1129.4,242.0 1130.0,243.9 1130.7,245.8 C1131.4,247.6 1132.0,249.5 1132.7,251.4 C1133.4,253.2 1134.0,255.1 1134.7,256.9 C1135.4,258.8 1136.0,260.6 1136.7,262.4 C1137.4,264.2 1138.0,265.9 1138.7,267.6 C1139.4,269.3 1140.0,271.0 1140.7,272.6 C1141.4,274.3 1142.0,275.8 1142.7,277.3 C1143.4,278.8 1144.0,280.2 1144.7,281.6 C1145.4,282.9 1146.0,284.2 1146.7,285.3 C1147.4,286.5 1148.0,287.5 1148.7,288.4 C1149.4,289.3 1150.0,290.2 1150.7,290.8 C1151.4,291.5 1152.0,292.0 1152.7,292.4 C1153.4,292.7 1154.0,293.0 1154.7,293.0 C1155.4,293.1 1156.0,292.9 1156.7,292.6 C1157.4,292.3 1158.0,291.8 1158.7,291.1 C1159.4,290.4 1160.0,289.5 1160.7,288.4 C1161.4,287.4 1162.0,286.2 1162.7,284.8 C1163.4,283.4 1164.0,281.9 1164.7,280.3 C1165.4,278.7 1166.0,277.0 1166.7,275.2 C1167.4,273.3 1168.0,271.4 1168.7,269.5 C1169.4,267.5 1170.0,265.5 1170.7,263.4 C1171.4,261.3 1172.0,259.2 1172.7,257.1 C1173.4,255.0 1174.0,252.9 1174.7,250.8 C1175.4,248.7 1176.0,246.6 1176.7,244.5 C1177.4,242.5 1178.0,240.4 1178.7,238.5 C1179.4,236.6 1180.0,234.7 1180.7,232.9 C1181.4,231.1 1182.0,229.4 1182.7,227.7 C1183.4,226.1 1184.0,224.5 1184.7,223.0 C1185.4,221.5 1186.0,220.1 1186.7,218.7 C1187.4,217.4 1188.0,216.1 1188.7,214.9 C1189.4,213.6 1190.0,212.5 1190.7,211.4 C1191.4,210.2 1192.0,209.2 1192.7,208.2 C1193.4,207.2 1194.0,206.3 1194.7,205.4 C1195.4,204.5 1196.0,203.6 1196.7,202.9 C1197.4,202.1 1198.0,201.3 1198.7,200.6 C1199.4,199.9 1200.0,199.2 1200.7,198.6 C1201.4,198.0 1202.0,197.4 1202.7,196.9 C1203.4,196.3 1204.0,195.8 1204.7,195.3 C1205.4,194.8 1206.0,194.4 1206.7,193.9 C1207.4,193.5 1208.0,193.1 1208.7,192.7 C1209.4,192.4 1210.0,192.0 1210.7,191.7 C1211.4,191.3 1212.0,191.0 1212.7,190.7 C1213.4,190.4 1214.0,190.1 1214.7,189.8 C1215.4,189.5 1216.0,189.3 1216.7,189.0 C1217.4,188.7 1218.0,188.5 1218.7,188.3 C1219.4,188.0 1220.0,187.8 1220.7,187.5 C1221.4,187.3 1222.0,187.1 1222.7,186.9 C1223.4,186.7 1224.0,186.5 1224.7,186.3 C1225.4,186.1 1226.0,185.9 1226.7,185.7 C1227.4,185.6 1228.0,185.4 1228.7,185.2 C1229.4,185.1 1230.0,184.9 1230.7,184.7 C1231.4,184.6 1232.0,184.5 1232.7,184.3 C1233.4,184.2 1234.0,184.1 1234.7,183.9 C1235.4,183.8 1236.0,183.7 1236.7,183.6 C1237.4,183.5 1238.0,183.4 1238.7,183.2 C1239.4,183.1 1240.0,183.0 1240.7,183.0 C1241.4,182.9 1242.0,182.8 1242.7,182.7 C1243.4,182.6 1244.0,182.5 1244.7,182.5 C1245.4,182.4 1246.0,182.3 1246.7,182.3 C1247.4,182.2 1248.0,182.1 1248.7,182.1 C1249.4,182.0 1250.0,182.0 1250.7,181.9 C1251.4,181.9 1252.0,181.8 1252.7,181.8 C1253.4,181.7 1254.0,181.7 1254.7,181.6 C1255.4,181.6 1256.0,181.6 1256.7,181.5 C1257.4,181.5 1258.0,181.5 1258.7,181.4 C1259.4,181.4 1260.0,181.4 1260.7,181.3 C1261.4,181.3 1262.0,181.3 1262.7,181.3 C1263.4,181.2 1264.0,181.2 1264.7,181.2 C1265.4,181.2 1266.0,181.1 1266.7,181.1 C1267.4,181.1 1268.0,181.1 1268.7,181.1 C1269.4,181.0 1270.0,181.0 1270.7,181.0 C1271.4,181.0 1272.0,180.9 1272.7,180.9 C1273.4,180.9 1274.0,180.9 1274.7,180.8 C1275.4,180.8 1276.0,180.8 1276.7,180.8 C1277.4,180.7 1278.0,180.7 1278.7,180.7 C1279.4,180.7 1280.0,180.6 1280.7,180.6 C1281.4,180.5 1282.0,180.5 1282.7,180.5 C1283.4,180.4 1284.0,180.4 1284.7,180.3 C1285.4,180.3 1286.0,180.3 1286.7,180.2 C1287.4,180.2 1288.0,180.1 1288.7,180.0 C1289.4,180.0 1290.2,179.9 1290.7,179.9 C1291.2,179.8 1291.8,179.8 1292.0,179.7" fill="none" stroke="#3f5fae" stroke-width="7" stroke-linejoin="round" />
<path d="M980.0,171.0 C980.3,170.9 981.3,170.6 982.0,170.4 C982.7,170.2 983.3,170.0 984.0,169.8 C984.7,169.7 985.3,169.5 986.0,169.4 C986.7,169.2 987.3,169.1 988.0,169.0 C988.7,168.9 989.3,168.8 990.0,168.7 C990.7,168.6 991.3,168.5 992.0,168.4 C992.7,168.3 993.3,168.3 994.0,168.2 C994.7,168.1 995.3,168.1 996.0,168.0 C996.7,168.0 997.3,167.9 998.0,167.9 C998.7,167.9 999.3,167.9 1000.0,167.8 C1000.7,167.8 1001.3,167.8 1002.0,167.8 C1002.7,167.8 1003.3,167.8 1004.0,167.8 C1004.7,167.8 1005.3,167.9 1006.0,167.9 C1006.7,167.9 1007.3,167.9 1008.0,168.0 C1008.7,168.0 1009.3,168.0 1010.0,168.1 C1010.7,168.1 1011.3,168.2 1012.0,168.2 C1012.7,168.2 1013.3,168.3 1014.0,168.4 C1014.7,168.4 1015.3,168.5 1016.0,168.5 C1016.7,168.6 1017.3,168.6 1018.0,168.7 C1018.7,168.8 1019.3,168.8 1020.0,168.9 C1020.7,169.0 1021.3,169.0 1022.0,169.1 C1022.7,169.2 1023.3,169.3 1024.0,169.3 C1024.7,169.4 1025.3,169.5 1026.0,169.5 C1026.7,169.6 1027.3,169.7 1028.0,169.7 C1028.7,169.8 1029.3,169.9 1030.0,169.9 C1030.7,170.0 1031.3,170.1 1032.0,170.1 C1032.7,170.2 1033.3,170.2 1034.0,170.3 C1034.7,170.4 1035.3,170.4 1036.0,170.5 C1036.7,170.5 1037.3,170.6 1038.0,170.6 C1038.7,170.7 1039.3,170.7 1040.0,170.7 C1040.7,170.8 1041.3,170.8 1042.0,170.8 C1042.7,170.8 1043.3,170.9 1044.0,170.9 C1044.7,170.9 1045.3,170.9 1046.0,170.9 C1046.7,170.9 1047.3,170.9 1048.0,170.9 C1048.7,170.9 1049.3,170.9 1050.0,170.8 C1050.7,170.8 1051.3,170.8 1052.0,170.8 C1052.7,170.7 1053.3,170.7 1054.0,170.6 C1054.7,170.6 1055.3,170.5 1056.0,170.4 C1056.7,170.3 1057.3,170.3 1058.0,170.2 C1058.7,170.1 1059.3,170.0 1060.0,169.9 C1060.7,169.8 1061.3,169.6 1062.0,169.5 C1062.7,169.4 1063.3,169.2 1064.0,169.1 C1064.7,168.9 1065.3,168.7 1066.0,168.6 C1066.7,168.4 1067.3,168.2 1068.0,168.0 C1068.7,167.8 1069.3,167.6 1070.0,167.4 C1070.7,167.1 1071.3,166.9 1072.0,166.6 C1072.7,166.4 1073.3,166.1 1074.0,165.8 C1074.7,165.5 1075.3,165.2 1076.0,164.9 C1076.7,164.6 1077.3,164.3 1078.0,164.0 C1078.7,163.6 1079.3,163.3 1080.0,162.9 C1080.7,162.5 1081.3,162.1 1082.0,161.7 C1082.7,161.3 1083.3,160.9 1084.0,160.5 C1084.7,160.0 1085.3,159.6 1086.0,159.1 C1086.7,158.6 1087.3,158.1 1088.0,157.6 C1088.7,157.1 1089.3,156.5 1090.0,156.0 C1090.7,155.4 1091.3,154.8 1092.0,154.2 C1092.7,153.6 1093.3,152.9 1094.0,152.2 C1094.7,151.5 1095.3,150.8 1096.0,150.0 C1096.7,149.3 1097.3,148.5 1098.0,147.6 C1098.7,146.8 1099.3,145.9 1100.0,145.0 C1100.7,144.0 1101.3,143.0 1102.0,142.0 C1102.7,141.0 1103.3,139.9 1104.0,138.8 C1104.7,137.6 1105.3,136.5 1106.0,135.2 C1106.7,134.0 1107.3,132.7 1108.0,131.3 C1108.7,130.0 1109.3,128.6 1110.0,127.1 C1110.7,125.6 1111.3,124.0 1112.0,122.4 C1112.7,120.8 1113.3,119.1 1114.0,117.4 C1114.7,115.6 1115.3,113.8 1116.0,112.0 C1116.7,110.2 1117.3,108.3 1118.0,106.6 C1118.7,104.9 1119.3,103.2 1120.0,101.8 C1120.7,100.4 1121.3,99.0 1122.0,98.0 C1122.7,97.0 1123.3,96.2 1124.0,95.8 C1124.7,95.4 1125.3,95.2 1126.0,95.5 C1126.7,95.8 1127.3,96.5 1128.0,97.7 C1128.7,99.0 1129.3,100.7 1130.0,102.9 C1130.7,105.2 1131.3,108.2 1132.0,111.3 C1132.7,114.4 1133.3,118.0 1134.0,121.3 C1134.7,124.6 1135.3,127.8 1136.0,130.9 C1136.7,134.0 1137.3,136.8 1138.0,139.9 C1138.7,143.0 1139.3,146.0 1140.0,149.6 C1140.7,153.1 1141.3,156.9 1142.0,161.1 C1142.7,165.3 1143.3,169.9 1144.0,174.8 C1144.7,179.6 1145.3,185.4 1146.0,190.3 C1146.7,195.1 1147.3,200.1 1148.0,203.8 C1148.7,207.5 1149.3,209.9 1150.0,212.3 C1150.7,214.7 1151.3,216.4 1152.0,218.2 C1152.7,220.1 1153.3,221.7 1154.0,223.3 C1154.7,225.0 1155.3,226.8 1156.0,228.3 C1156.7,229.8 1157.3,231.5 1158.0,232.6 C1158.7,233.6 1159.3,234.5 1160.0,234.7 C1160.7,235.0 1161.3,234.6 1162.0,234.1 C1162.7,233.6 1163.3,232.6 1164.0,231.7 C1164.7,230.7 1165.3,229.6 1166.0,228.4 C1166.7,227.3 1167.3,226.2 1168.0,225.0 C1168.7,223.8 1169.3,222.6 1170.0,221.4 C1170.7,220.2 1171.3,219.0 1172.0,217.8 C1172.7,216.6 1173.3,215.4 1174.0,214.3 C1174.7,213.1 1175.3,212.0 1176.0,210.8 C1176.7,209.7 1177.3,208.6 1178.0,207.6 C1178.7,206.5 1179.3,205.5 1180.0,204.6 C1180.7,203.6 1181.3,202.7 1182.0,201.8 C1182.7,201.0 1183.3,200.1 1184.0,199.3 C1184.7,198.5 1185.3,197.7 1186.0,197.0 C1186.7,196.3 1187.3,195.6 1188.0,194.9 C1188.7,194.2 1189.3,193.6 1190.0,193.0 C1190.7,192.4 1191.3,191.8 1192.0,191.3 C1192.7,190.7 1193.3,190.2 1194.0,189.7 C1194.7,189.2 1195.3,188.8 1196.0,188.3 C1196.7,187.9 1197.3,187.5 1198.0,187.1 C1198.7,186.7 1199.3,186.3 1200.0,185.9 C1200.7,185.6 1201.3,185.2 1202.0,184.9 C1202.7,184.6 1203.3,184.3 1204.0,184.0 C1204.7,183.7 1205.3,183.4 1206.0,183.1 C1206.7,182.9 1207.3,182.6 1208.0,182.4 C1208.7,182.2 1209.3,181.9 1210.0,181.7 C1210.7,181.5 1211.3,181.3 1212.0,181.1 C1212.7,180.8 1213.3,180.6 1214.0,180.4 C1214.7,180.2 1215.3,180.1 1216.0,179.9 C1216.7,179.7 1217.3,179.5 1218.0,179.3 C1218.7,179.2 1219.3,179.0 1220.0,178.8 C1220.7,178.7 1221.3,178.5 1222.0,178.4 C1222.7,178.2 1223.3,178.1 1224.0,177.9 C1224.7,177.8 1225.3,177.7 1226.0,177.5 C1226.7,177.4 1227.3,177.3 1228.0,177.2 C1228.7,177.1 1229.3,176.9 1230.0,176.8 C1230.7,176.7 1231.3,176.6 1232.0,176.5 C1232.7,176.4 1233.3,176.3 1234.0,176.2 C1234.7,176.1 1235.3,176.1 1236.0,176.0 C1236.7,175.9 1237.3,175.8 1238.0,175.7 C1238.7,175.7 1239.3,175.6 1240.0,175.5 C1240.7,175.4 1241.3,175.4 1242.0,175.3 C1242.7,175.2 1243.3,175.2 1244.0,175.1 C1244.7,175.1 1245.3,175.0 1246.0,175.0 C1246.7,174.9 1247.3,174.9 1248.0,174.8 C1248.7,174.8 1249.3,174.7 1250.0,174.7 C1250.7,174.7 1251.3,174.6 1252.0,174.6 C1252.7,174.6 1253.3,174.5 1254.0,174.5 C1254.7,174.5 1255.3,174.4 1256.0,174.4 C1256.7,174.4 1257.3,174.4 1258.0,174.3 C1258.7,174.3 1259.3,174.3 1260.0,174.3 C1260.7,174.3 1261.3,174.2 1262.0,174.2 C1262.7,174.2 1263.3,174.2 1264.0,174.2 C1264.7,174.2 1265.3,174.1 1266.0,174.1 C1266.7,174.1 1267.3,174.1 1268.0,174.1 C1268.7,174.1 1269.3,174.1 1270.0,174.1 C1270.7,174.0 1271.3,174.0 1272.0,174.0 C1272.7,174.0 1273.3,174.0 1274.0,174.0 C1274.7,174.0 1275.3,174.0 1276.0,174.0 C1276.7,173.9 1277.3,173.9 1278.0,173.9 C1278.7,173.9 1279.3,173.9 1280.0,173.9 C1280.7,173.9 1281.3,173.9 1282.0,173.8 C1282.7,173.8 1283.3,173.8 1284.0,173.8 C1284.7,173.8 1285.3,173.8 1286.0,173.7 C1286.7,173.7 1287.3,173.7 1288.0,173.7 C1288.7,173.7 1289.3,173.6 1290.0,173.6 C1290.7,173.6 1291.7,173.5 1292.0,173.5" fill="none" stroke="#2b8a3e" stroke-width="7" stroke-linejoin="round" />
<rect x="979.1" y="43" width="313.9" height="273.6" fill="none" stroke="#1a1a1a" stroke-width="3.5"/>
<text x="964.57" y="341.1" font-size="22.00" textLength="28.86" lengthAdjust="spacingAndGlyphs" fill="#111" stroke="#111" stroke-width="0.3">3.4</text>
<text x="1027.45" y="341.1" font-size="22.00" textLength="28.86" lengthAdjust="spacingAndGlyphs" fill="#111" stroke="#111" stroke-width="0.3">3.6</text>
<text x="1090.23" y="341.1" font-size="22.00" textLength="28.86" lengthAdjust="spacingAndGlyphs" fill="#111" stroke="#111" stroke-width="0.3">3.8</text>
<text x="1161.78" y="341.1" font-size="22.00" textLength="11.55" lengthAdjust="spacingAndGlyphs" fill="#111" stroke="#111" stroke-width="0.3">4</text>
<text x="1216.10" y="341.1" font-size="22.00" textLength="28.86" lengthAdjust="spacingAndGlyphs" fill="#111" stroke="#111" stroke-width="0.3">4.2</text>
<text x="1278.67" y="341.1" font-size="22.00" textLength="28.86" lengthAdjust="spacingAndGlyphs" fill="#111" stroke="#111" stroke-width="0.3">4.4</text>
<text x="959.90" y="105.21" font-size="22.00" textLength="11.55" lengthAdjust="spacingAndGlyphs" fill="#111" stroke="#111" stroke-width="0.3">4</text>
<text x="960.00" y="178.00" font-size="22.00" textLength="11.55" lengthAdjust="spacingAndGlyphs" fill="#111" stroke="#111" stroke-width="0.3">0</text>
<text x="952.94" y="250.57" font-size="22.00" textLength="18.46" lengthAdjust="spacingAndGlyphs" fill="#111" stroke="#111" stroke-width="0.3">-4</text>
<text x="953.15" y="323.36" font-size="22.00" textLength="18.46" lengthAdjust="spacingAndGlyphs" fill="#111" stroke="#111" stroke-width="0.3">-8</text>
<text x="1042.25" y="78.08" font-size="21.69" font-weight="bold" fill="#111" stroke="#111" stroke-width="0.55" textLength="50.37" lengthAdjust="spacingAndGlyphs">PTPS</text>
<text x="1168.98" y="110.70" font-size="25.79" font-weight="bold" fill="#8e1b25" stroke="#8e1b25" stroke-width="0.55" textLength="16.05" lengthAdjust="spacingAndGlyphs">k</text>
<text x="1184.10" y="116.63" font-size="16.04" fill="#8e1b25" stroke="#8e1b25" stroke-width="0.3" textLength="8.10" lengthAdjust="spacingAndGlyphs">||</text>
<text x="1191.30" y="101.30" font-size="12.83" font-weight="bold" fill="#8e1b25" stroke="#8e1b25" stroke-width="0.15" textLength="17.39" lengthAdjust="spacingAndGlyphs">(+)</text>
<text x="1033.43" y="215.26" font-size="24.49" fill="#2b8a3e" stroke="#2b8a3e" stroke-width="0.3" textLength="47.20" lengthAdjust="spacingAndGlyphs">total</text>
<text x="1183.22" y="288.00" font-size="24.83" font-weight="bold" fill="#3f5fae" stroke="#3f5fae" stroke-width="0.55" textLength="14.10" lengthAdjust="spacingAndGlyphs">k</text>
<text x="1196.41" y="293.41" font-size="17.11" fill="#3f5fae" stroke="#3f5fae" stroke-width="0.3" textLength="9.17" lengthAdjust="spacingAndGlyphs">||</text>
<text x="1204.30" y="278.19" font-size="13.37" font-weight="bold" fill="#3f5fae" stroke="#3f5fae" stroke-width="0.15" textLength="13.99" lengthAdjust="spacingAndGlyphs">(-)</text>
<text x="917.41" y="19.35" font-size="24.91" font-weight="bold" fill="#111" stroke="#111" stroke-width="0.55" textLength="12.38" lengthAdjust="spacingAndGlyphs">c</text>
<text x="929.59" y="17.18" font-size="24.39" fill="#111" stroke="#111" stroke-width="0.3" textLength="7.29" lengthAdjust="spacingAndGlyphs">)</text>
<text x="942.65" y="19.10" font-size="25.80" fill="#111" stroke="#111" stroke-width="0.3" textLength="371.50" lengthAdjust="spacingAndGlyphs">Spin Angular Momentum Density</text>
<text x="1056.02" y="368.85" font-size="24.55" font-style="italic" fill="#111" stroke="#111" stroke-width="0.3" textLength="20.12" lengthAdjust="spacingAndGlyphs">ω</text>
<text x="1082.22" y="369.10" font-size="27.54" fill="#111" stroke="#111" stroke-width="0.3" textLength="9.30" lengthAdjust="spacingAndGlyphs">(</text>
<text x="1090.26" y="370.77" font-size="20.67" fill="#111" stroke="#111" stroke-width="0.3" textLength="13.65" lengthAdjust="spacingAndGlyphs">×</text>
<text x="1104.20" y="368.83" font-size="27.32" fill="#111" stroke="#111" stroke-width="0.3" textLength="29.70" lengthAdjust="spacingAndGlyphs">10</text>
<text x="1136.73" y="359.73" font-size="17.18" fill="#111" stroke="#111" stroke-width="0.3" textLength="14.42" lengthAdjust="spacingAndGlyphs">13</text>
<text x="1158.59" y="369.10" font-size="27.54" fill="#111" stroke="#111" stroke-width="0.3" textLength="71.32" lengthAdjust="spacingAndGlyphs">rad/s)</text>
<text x="-306.75" y="940.30" transform="rotate(-90)" font-size="27.80" font-style="italic" textLength="14.51" lengthAdjust="spacingAndGlyphs" fill="#111111" stroke="#111111" stroke-width="0.3">S</text>
<text x="-291.34" y="950.20" transform="rotate(-90)" font-size="15.50" font-weight="bold" textLength="7.62" lengthAdjust="spacingAndGlyphs" fill="#111111" stroke="#111111" stroke-width="0.45">x</text>
<text x="-277.10" y="940.30" transform="rotate(-90)" font-size="27.80" textLength="9.43" lengthAdjust="spacingAndGlyphs" fill="#111111" stroke="#111111" stroke-width="0.3">(</text>
<text x="-268.26" y="939.30" transform="rotate(-90)" font-size="22.24" textLength="10.50" lengthAdjust="spacingAndGlyphs" fill="#111111" stroke="#111111" stroke-width="0.3">×</text>
<text x="-256.09" y="940.30" transform="rotate(-90)" font-size="27.80" textLength="31.03" lengthAdjust="spacingAndGlyphs" fill="#111111" stroke="#111111" stroke-width="0.3">10</text>
<text x="-225.19" y="930.50" transform="rotate(-90)" font-size="17.50" textLength="22.16" lengthAdjust="spacingAndGlyphs" fill="#111111" stroke="#111111" stroke-width="0.3">-32</text>
<text x="-197.46" y="940.30" transform="rotate(-90)" font-size="27.80" textLength="30.54" lengthAdjust="spacingAndGlyphs" fill="#111111" stroke="#111111" stroke-width="0.3">J.s</text>
<text x="-167.66" y="930.50" transform="rotate(-90)" font-size="17.50" textLength="9.53" lengthAdjust="spacingAndGlyphs" fill="#111111" stroke="#111111" stroke-width="0.3">2</text>
<text x="-159.00" y="940.30" transform="rotate(-90)" font-size="27.80" textLength="52.58" lengthAdjust="spacingAndGlyphs" fill="#111111" stroke="#111111" stroke-width="0.3">/rad</text>
<text x="-106.12" y="930.50" transform="rotate(-90)" font-size="17.50" textLength="10.27" lengthAdjust="spacingAndGlyphs" fill="#111111" stroke="#111111" stroke-width="0.3">2</text>
<text x="-97.79" y="940.30" transform="rotate(-90)" font-size="27.80" textLength="24.22" lengthAdjust="spacingAndGlyphs" fill="#111111" stroke="#111111" stroke-width="0.3">m</text>
<text x="-74.21" y="930.50" transform="rotate(-90)" font-size="17.50" textLength="9.84" lengthAdjust="spacingAndGlyphs" fill="#111111" stroke="#111111" stroke-width="0.3">3</text>
<text x="-58.76" y="940.30" transform="rotate(-90)" font-size="27.80" textLength="10.56" lengthAdjust="spacingAndGlyphs" fill="#111111" stroke="#111111" stroke-width="0.3">)</text>
<line x1="1391.2" y1="159.2" x2="1707.8" y2="159.2" stroke="#999" stroke-width="1.6"/>
<line x1="1454.5" y1="41.8" x2="1454.5" y2="52.8" stroke="#1a1a1a" stroke-width="2"/>
<line x1="1454.5" y1="315.6" x2="1454.5" y2="304.6" stroke="#1a1a1a" stroke-width="2"/>
<line x1="1517.8" y1="41.8" x2="1517.8" y2="52.8" stroke="#1a1a1a" stroke-width="2"/>
<line x1="1517.8" y1="315.6" x2="1517.8" y2="304.6" stroke="#1a1a1a" stroke-width="2"/>
<line x1="1581.2" y1="41.8" x2="1581.2" y2="52.8" stroke="#1a1a1a" stroke-width="2"/>
<line x1="1581.2" y1="315.6" x2="1581.2" y2="304.6" stroke="#1a1a1a" stroke-width="2"/>
<line x1="1644.5" y1="41.8" x2="1644.5" y2="52.8" stroke="#1a1a1a" stroke-width="2"/>
<line x1="1644.5" y1="315.6" x2="1644.5" y2="304.6" stroke="#1a1a1a" stroke-width="2"/>
<line x1="1391.2" y1="275.9" x2="1401.2" y2="275.9" stroke="#1a1a1a" stroke-width="2"/>
<line x1="1707.8" y1="275.9" x2="1697.8" y2="275.9" stroke="#1a1a1a" stroke-width="2"/>
<line x1="1391.2" y1="237.0" x2="1401.2" y2="237.0" stroke="#1a1a1a" stroke-width="2"/>
<line x1="1707.8" y1="237.0" x2="1697.8" y2="237.0" stroke="#1a1a1a" stroke-width="2"/>
<line x1="1391.2" y1="198.1" x2="1401.2" y2="198.1" stroke="#1a1a1a" stroke-width="2"/>
<line x1="1707.8" y1="198.1" x2="1697.8" y2="198.1" stroke="#1a1a1a" stroke-width="2"/>
<line x1="1391.2" y1="159.2" x2="1401.2" y2="159.2" stroke="#1a1a1a" stroke-width="2"/>
<line x1="1707.8" y1="159.2" x2="1697.8" y2="159.2" stroke="#1a1a1a" stroke-width="2"/>
<line x1="1391.2" y1="120.3" x2="1401.2" y2="120.3" stroke="#1a1a1a" stroke-width="2"/>
<line x1="1707.8" y1="120.3" x2="1697.8" y2="120.3" stroke="#1a1a1a" stroke-width="2"/>
<line x1="1391.2" y1="81.4" x2="1401.2" y2="81.4" stroke="#1a1a1a" stroke-width="2"/>
<line x1="1707.8" y1="81.4" x2="1697.8" y2="81.4" stroke="#1a1a1a" stroke-width="2"/>
<path d="M1392.0,139.6 C1392.3,139.8 1393.3,140.4 1394.0,140.8 C1394.7,141.2 1395.3,141.6 1396.0,141.9 C1396.7,142.3 1397.3,142.6 1398.0,142.9 C1398.7,143.3 1399.3,143.5 1400.0,143.8 C1400.7,144.1 1401.3,144.3 1402.0,144.6 C1402.7,144.8 1403.3,145.0 1404.0,145.2 C1404.7,145.4 1405.3,145.6 1406.0,145.7 C1406.7,145.9 1407.3,146.0 1408.0,146.1 C1408.7,146.3 1409.3,146.4 1410.0,146.4 C1410.7,146.5 1411.3,146.6 1412.0,146.6 C1412.7,146.7 1413.3,146.7 1414.0,146.7 C1414.7,146.7 1415.3,146.7 1416.0,146.7 C1416.7,146.7 1417.3,146.6 1418.0,146.6 C1418.7,146.5 1419.3,146.4 1420.0,146.3 C1420.7,146.2 1421.3,146.1 1422.0,146.0 C1422.7,145.9 1423.3,145.7 1424.0,145.5 C1424.7,145.4 1425.3,145.2 1426.0,145.0 C1426.7,144.8 1427.3,144.6 1428.0,144.4 C1428.7,144.1 1429.3,143.9 1430.0,143.6 C1430.7,143.4 1431.3,143.1 1432.0,142.8 C1432.7,142.5 1433.3,142.2 1434.0,141.9 C1434.7,141.5 1435.3,141.2 1436.0,140.8 C1436.7,140.4 1437.3,140.0 1438.0,139.6 C1438.7,139.2 1439.3,138.7 1440.0,138.2 C1440.7,137.8 1441.3,137.2 1442.0,136.7 C1442.7,136.1 1443.3,135.5 1444.0,134.8 C1444.7,134.2 1445.3,133.5 1446.0,132.7 C1446.7,132.0 1447.3,131.2 1448.0,130.3 C1448.7,129.4 1449.3,128.5 1450.0,127.5 C1450.7,126.5 1451.3,125.5 1452.0,124.4 C1452.7,123.3 1453.3,122.2 1454.0,121.1 C1454.7,120.0 1455.3,118.9 1456.0,117.9 C1456.7,116.9 1457.3,115.9 1458.0,115.1 C1458.7,114.3 1459.3,113.6 1460.0,113.1 C1460.7,112.6 1461.3,112.2 1462.0,112.0 C1462.7,111.8 1463.3,111.8 1464.0,112.0 C1464.7,112.1 1465.3,112.5 1466.0,112.9 C1466.7,113.4 1467.3,114.0 1468.0,114.7 C1468.7,115.4 1469.3,116.2 1470.0,117.1 C1470.7,118.0 1471.3,119.0 1472.0,120.0 C1472.7,120.9 1473.3,121.9 1474.0,122.8 C1474.7,123.8 1475.3,124.7 1476.0,125.5 C1476.7,126.4 1477.3,127.2 1478.0,127.9 C1478.7,128.7 1479.3,129.5 1480.0,130.1 C1480.7,130.8 1481.3,131.5 1482.0,132.0 C1482.7,132.6 1483.3,133.1 1484.0,133.6 C1484.7,134.1 1485.3,134.5 1486.0,134.8 C1486.7,135.2 1487.3,135.5 1488.0,135.7 C1488.7,135.9 1489.3,136.1 1490.0,136.2 C1490.7,136.3 1491.3,136.4 1492.0,136.3 C1492.7,136.3 1493.3,136.3 1494.0,136.2 C1494.7,136.0 1495.3,135.8 1496.0,135.6 C1496.7,135.4 1497.3,135.1 1498.0,134.7 C1498.7,134.4 1499.3,133.9 1500.0,133.5 C1500.7,133.0 1501.3,132.5 1502.0,131.9 C1502.7,131.3 1503.3,130.6 1504.0,129.9 C1504.7,129.2 1505.3,128.5 1506.0,127.7 C1506.7,126.8 1507.3,126.0 1508.0,125.0 C1508.7,124.1 1509.3,123.1 1510.0,122.1 C1510.7,121.0 1511.3,119.9 1512.0,118.8 C1512.7,117.6 1513.3,116.4 1514.0,115.1 C1514.7,113.9 1515.3,112.5 1516.0,111.2 C1516.7,109.8 1517.3,108.4 1518.0,106.9 C1518.7,105.5 1519.3,104.0 1520.0,102.5 C1520.7,101.1 1521.3,99.6 1522.0,98.1 C1522.7,96.7 1523.3,95.2 1524.0,93.8 C1524.7,92.4 1525.3,91.1 1526.0,89.8 C1526.7,88.5 1527.3,87.2 1528.0,86.0 C1528.7,84.9 1529.3,83.8 1530.0,82.8 C1530.7,81.8 1531.3,80.9 1532.0,80.1 C1532.7,79.4 1533.3,78.7 1534.0,78.2 C1534.7,77.7 1535.3,77.3 1536.0,77.1 C1536.7,76.9 1537.3,76.8 1538.0,76.9 C1538.7,77.1 1539.3,77.4 1540.0,77.8 C1540.7,78.3 1541.3,79.0 1542.0,79.9 C1542.7,80.7 1543.3,81.8 1544.0,83.1 C1544.7,84.3 1545.3,85.8 1546.0,87.3 C1546.7,88.9 1547.3,90.6 1548.0,92.2 C1548.7,93.9 1549.3,95.7 1550.0,97.4 C1550.7,99.1 1551.3,100.8 1552.0,102.4 C1552.7,104.1 1553.3,105.6 1554.0,107.1 C1554.7,108.5 1555.3,109.9 1556.0,111.2 C1556.7,112.5 1557.3,113.7 1558.0,114.9 C1558.7,116.1 1559.3,117.2 1560.0,118.3 C1560.7,119.3 1561.3,120.3 1562.0,121.3 C1562.7,122.2 1563.3,123.1 1564.0,124.0 C1564.7,124.9 1565.3,125.7 1566.0,126.5 C1566.7,127.3 1567.3,128.0 1568.0,128.8 C1568.7,129.5 1569.3,130.2 1570.0,130.8 C1570.7,131.5 1571.3,132.1 1572.0,132.6 C1572.7,133.2 1573.3,133.8 1574.0,134.3 C1574.7,134.8 1575.3,135.3 1576.0,135.8 C1576.7,136.2 1577.3,136.6 1578.0,137.0 C1578.7,137.4 1579.3,137.8 1580.0,138.2 C1580.7,138.5 1581.3,138.8 1582.0,139.1 C1582.7,139.4 1583.3,139.7 1584.0,139.9 C1584.7,140.2 1585.3,140.4 1586.0,140.6 C1586.7,140.8 1587.3,141.0 1588.0,141.2 C1588.7,141.3 1589.3,141.5 1590.0,141.6 C1590.7,141.7 1591.3,141.8 1592.0,141.9 C1592.7,142.0 1593.3,142.1 1594.0,142.1 C1594.7,142.2 1595.3,142.2 1596.0,142.3 C1596.7,142.3 1597.3,142.3 1598.0,142.3 C1598.7,142.3 1599.3,142.3 1600.0,142.3 C1600.7,142.3 1601.3,142.2 1602.0,142.2 C1602.7,142.2 1603.3,142.1 1604.0,142.1 C1604.7,142.0 1605.3,142.0 1606.0,141.9 C1606.7,141.8 1607.3,141.7 1608.0,141.7 C1608.7,141.6 1609.3,141.5 1610.0,141.4 C1610.7,141.4 1611.3,141.3 1612.0,141.2 C1612.7,141.1 1613.3,141.0 1614.0,140.9 C1614.7,140.8 1615.3,140.8 1616.0,140.7 C1616.7,140.6 1617.3,140.5 1618.0,140.4 C1618.7,140.4 1619.3,140.3 1620.0,140.2 C1620.7,140.2 1621.3,140.1 1622.0,140.0 C1622.7,140.0 1623.3,139.9 1624.0,139.9 C1624.7,139.8 1625.3,139.8 1626.0,139.8 C1626.7,139.7 1627.3,139.7 1628.0,139.7 C1628.7,139.6 1629.3,139.6 1630.0,139.6 C1630.7,139.6 1631.3,139.6 1632.0,139.6 C1632.7,139.6 1633.3,139.5 1634.0,139.5 C1634.7,139.5 1635.3,139.5 1636.0,139.5 C1636.7,139.5 1637.3,139.6 1638.0,139.6 C1638.7,139.6 1639.3,139.6 1640.0,139.6 C1640.7,139.6 1641.3,139.6 1642.0,139.7 C1642.7,139.7 1643.3,139.7 1644.0,139.7 C1644.7,139.7 1645.3,139.8 1646.0,139.8 C1646.7,139.8 1647.3,139.8 1648.0,139.9 C1648.7,139.9 1649.3,139.9 1650.0,140.0 C1650.7,140.0 1651.3,140.0 1652.0,140.1 C1652.7,140.1 1653.3,140.1 1654.0,140.2 C1654.7,140.2 1655.3,140.2 1656.0,140.3 C1656.7,140.3 1657.3,140.4 1658.0,140.4 C1658.7,140.4 1659.3,140.5 1660.0,140.5 C1660.7,140.5 1661.3,140.6 1662.0,140.6 C1662.7,140.6 1663.3,140.7 1664.0,140.7 C1664.7,140.7 1665.3,140.7 1666.0,140.8 C1666.7,140.8 1667.3,140.8 1668.0,140.9 C1668.7,140.9 1669.3,140.9 1670.0,140.9 C1670.7,140.9 1671.3,141.0 1672.0,141.0 C1672.7,141.0 1673.3,141.0 1674.0,141.0 C1674.7,141.0 1675.3,141.0 1676.0,141.1 C1676.7,141.1 1677.3,141.1 1678.0,141.1 C1678.7,141.1 1679.3,141.1 1680.0,141.1 C1680.7,141.0 1681.3,141.0 1682.0,141.0 C1682.7,141.0 1683.3,141.0 1684.0,141.0 C1684.7,140.9 1685.3,140.9 1686.0,140.9 C1686.7,140.9 1687.3,140.8 1688.0,140.8 C1688.7,140.7 1689.3,140.7 1690.0,140.6 C1690.7,140.6 1691.3,140.5 1692.0,140.5 C1692.7,140.4 1693.3,140.3 1694.0,140.3 C1694.7,140.2 1695.3,140.1 1696.0,140.0 C1696.7,140.0 1697.3,139.9 1698.0,139.8 C1698.7,139.7 1699.3,139.6 1700.0,139.5 C1700.7,139.3 1701.3,139.2 1702.0,139.1 C1702.7,139.0 1703.3,138.9 1704.0,138.7 C1704.7,138.6 1705.5,138.4 1706.0,138.3 C1706.5,138.2 1706.8,138.1 1707.0,138.0" fill="none" stroke="#8e1b25" stroke-width="7" stroke-linejoin="round" />
<path d="M1392.0,177.7 C1392.3,177.4 1393.3,176.3 1394.0,175.7 C1394.7,175.1 1395.3,174.6 1396.0,174.2 C1396.7,173.8 1397.3,173.4 1398.0,173.1 C1398.7,172.8 1399.3,172.6 1400.0,172.4 C1400.7,172.2 1401.3,172.0 1402.0,171.9 C1402.7,171.8 1403.3,171.8 1404.0,171.8 C1404.7,171.7 1405.3,171.8 1406.0,171.8 C1406.7,171.9 1407.3,171.9 1408.0,172.0 C1408.7,172.1 1409.3,172.2 1410.0,172.3 C1410.7,172.4 1411.3,172.6 1412.0,172.7 C1412.7,172.8 1413.3,172.9 1414.0,173.0 C1414.7,173.2 1415.3,173.3 1416.0,173.4 C1416.7,173.5 1417.3,173.5 1418.0,173.6 C1418.7,173.6 1419.3,173.7 1420.0,173.7 C1420.7,173.7 1421.3,173.7 1422.0,173.7 C1422.7,173.7 1423.3,173.7 1424.0,173.6 C1424.7,173.6 1425.3,173.6 1426.0,173.6 C1426.7,173.6 1427.3,173.6 1428.0,173.6 C1428.7,173.6 1429.3,173.6 1430.0,173.7 C1430.7,173.8 1431.3,173.8 1432.0,173.9 C1432.7,174.0 1433.3,174.2 1434.0,174.4 C1434.7,174.5 1435.3,174.8 1436.0,175.0 C1436.7,175.3 1437.3,175.6 1438.0,176.0 C1438.7,176.3 1439.3,176.8 1440.0,177.2 C1440.7,177.7 1441.3,178.3 1442.0,178.8 C1442.7,179.4 1443.3,180.0 1444.0,180.7 C1444.7,181.3 1445.3,182.0 1446.0,182.7 C1446.7,183.5 1447.3,184.2 1448.0,185.0 C1448.7,185.8 1449.3,186.6 1450.0,187.4 C1450.7,188.2 1451.3,189.1 1452.0,189.9 C1452.7,190.7 1453.3,191.6 1454.0,192.5 C1454.7,193.3 1455.3,194.2 1456.0,195.0 C1456.7,195.9 1457.3,196.7 1458.0,197.6 C1458.7,198.4 1459.3,199.3 1460.0,200.1 C1460.7,200.9 1461.3,201.7 1462.0,202.5 C1462.7,203.2 1463.3,204.0 1464.0,204.7 C1464.7,205.4 1465.3,206.1 1466.0,206.7 C1466.7,207.4 1467.3,208.0 1468.0,208.5 C1468.7,209.0 1469.3,209.5 1470.0,209.7 C1470.7,209.9 1471.3,209.8 1472.0,209.5 C1472.7,209.2 1473.3,208.6 1474.0,207.8 C1474.7,207.0 1475.3,205.9 1476.0,204.7 C1476.7,203.6 1477.3,202.2 1478.0,200.9 C1478.7,199.7 1479.3,198.4 1480.0,197.2 C1480.7,196.1 1481.3,195.1 1482.0,194.1 C1482.7,193.2 1483.3,192.3 1484.0,191.6 C1484.7,190.8 1485.3,190.1 1486.0,189.5 C1486.7,188.8 1487.3,188.3 1488.0,187.8 C1488.7,187.3 1489.3,186.8 1490.0,186.4 C1490.7,186.0 1491.3,185.6 1492.0,185.3 C1492.7,184.9 1493.3,184.6 1494.0,184.3 C1494.7,184.0 1495.3,183.8 1496.0,183.5 C1496.7,183.3 1497.3,183.1 1498.0,182.9 C1498.7,182.7 1499.3,182.5 1500.0,182.4 C1500.7,182.2 1501.3,182.1 1502.0,182.0 C1502.7,181.9 1503.3,181.9 1504.0,181.9 C1504.7,181.8 1505.3,181.8 1506.0,181.9 C1506.7,181.9 1507.3,182.0 1508.0,182.1 C1508.7,182.2 1509.3,182.3 1510.0,182.5 C1510.7,182.7 1511.3,182.9 1512.0,183.2 C1512.7,183.4 1513.3,183.7 1514.0,184.1 C1514.7,184.4 1515.3,184.8 1516.0,185.2 C1516.7,185.6 1517.3,186.0 1518.0,186.5 C1518.7,187.0 1519.3,187.6 1520.0,188.2 C1520.7,188.8 1521.3,189.4 1522.0,190.1 C1522.7,190.8 1523.3,191.5 1524.0,192.3 C1524.7,193.1 1525.3,193.9 1526.0,194.8 C1526.7,195.6 1527.3,196.6 1528.0,197.6 C1528.7,198.5 1529.3,199.6 1530.0,200.7 C1530.7,201.8 1531.3,202.9 1532.0,204.1 C1532.7,205.3 1533.3,206.6 1534.0,207.9 C1534.7,209.2 1535.3,210.6 1536.0,212.0 C1536.7,213.4 1537.3,214.9 1538.0,216.5 C1538.7,218.1 1539.3,219.7 1540.0,221.4 C1540.7,223.0 1541.3,224.8 1542.0,226.6 C1542.7,228.4 1543.3,230.3 1544.0,232.2 C1544.7,234.2 1545.3,236.2 1546.0,238.3 C1546.7,240.4 1547.3,242.6 1548.0,244.8 C1548.7,247.0 1549.3,249.3 1550.0,251.5 C1550.7,253.8 1551.3,256.1 1552.0,258.4 C1552.7,260.6 1553.3,262.9 1554.0,265.0 C1554.7,267.2 1555.3,269.3 1556.0,271.3 C1556.7,273.3 1557.3,275.3 1558.0,277.0 C1558.7,278.8 1559.3,280.4 1560.0,281.8 C1560.7,283.3 1561.3,284.6 1562.0,285.6 C1562.7,286.6 1563.3,287.5 1564.0,288.1 C1564.7,288.7 1565.3,289.1 1566.0,289.3 C1566.7,289.5 1567.3,289.5 1568.0,289.3 C1568.7,289.0 1569.3,288.6 1570.0,288.0 C1570.7,287.4 1571.3,286.5 1572.0,285.5 C1572.7,284.5 1573.3,283.3 1574.0,281.9 C1574.7,280.6 1575.3,279.0 1576.0,277.4 C1576.7,275.9 1577.3,274.2 1578.0,272.5 C1578.7,270.8 1579.3,269.0 1580.0,267.2 C1580.7,265.5 1581.3,263.7 1582.0,261.9 C1582.7,260.1 1583.3,258.3 1584.0,256.5 C1584.7,254.7 1585.3,252.9 1586.0,251.1 C1586.7,249.3 1587.3,247.6 1588.0,245.9 C1588.7,244.2 1589.3,242.5 1590.0,240.8 C1590.7,239.2 1591.3,237.6 1592.0,236.1 C1592.7,234.5 1593.3,233.0 1594.0,231.6 C1594.7,230.2 1595.3,228.8 1596.0,227.4 C1596.7,226.1 1597.3,224.8 1598.0,223.5 C1598.7,222.3 1599.3,221.1 1600.0,219.9 C1600.7,218.7 1601.3,217.6 1602.0,216.5 C1602.7,215.4 1603.3,214.4 1604.0,213.4 C1604.7,212.4 1605.3,211.4 1606.0,210.5 C1606.7,209.5 1607.3,208.7 1608.0,207.8 C1608.7,206.9 1609.3,206.1 1610.0,205.3 C1610.7,204.5 1611.3,203.8 1612.0,203.1 C1612.7,202.3 1613.3,201.6 1614.0,201.0 C1614.7,200.3 1615.3,199.7 1616.0,199.1 C1616.7,198.5 1617.3,197.9 1618.0,197.3 C1618.7,196.8 1619.3,196.3 1620.0,195.7 C1620.7,195.2 1621.3,194.8 1622.0,194.3 C1622.7,193.9 1623.3,193.4 1624.0,193.0 C1624.7,192.6 1625.3,192.2 1626.0,191.8 C1626.7,191.4 1627.3,191.1 1628.0,190.8 C1628.7,190.4 1629.3,190.1 1630.0,189.8 C1630.7,189.5 1631.3,189.2 1632.0,188.9 C1632.7,188.6 1633.3,188.4 1634.0,188.1 C1634.7,187.8 1635.3,187.6 1636.0,187.4 C1636.7,187.1 1637.3,186.9 1638.0,186.7 C1638.7,186.5 1639.3,186.3 1640.0,186.1 C1640.7,185.9 1641.3,185.7 1642.0,185.5 C1642.7,185.3 1643.3,185.2 1644.0,185.0 C1644.7,184.8 1645.3,184.7 1646.0,184.5 C1646.7,184.4 1647.3,184.2 1648.0,184.1 C1648.7,184.0 1649.3,183.8 1650.0,183.7 C1650.7,183.6 1651.3,183.5 1652.0,183.4 C1652.7,183.3 1653.3,183.2 1654.0,183.1 C1654.7,183.0 1655.3,182.9 1656.0,182.8 C1656.7,182.7 1657.3,182.7 1658.0,182.6 C1658.7,182.5 1659.3,182.5 1660.0,182.4 C1660.7,182.3 1661.3,182.3 1662.0,182.2 C1662.7,182.2 1663.3,182.1 1664.0,182.1 C1664.7,182.0 1665.3,182.0 1666.0,181.9 C1666.7,181.9 1667.3,181.9 1668.0,181.8 C1668.7,181.8 1669.3,181.8 1670.0,181.8 C1670.7,181.7 1671.3,181.7 1672.0,181.7 C1672.7,181.7 1673.3,181.6 1674.0,181.6 C1674.7,181.6 1675.3,181.6 1676.0,181.6 C1676.7,181.5 1677.3,181.5 1678.0,181.5 C1678.7,181.5 1679.3,181.5 1680.0,181.5 C1680.7,181.4 1681.3,181.4 1682.0,181.4 C1682.7,181.4 1683.3,181.4 1684.0,181.4 C1684.7,181.4 1685.3,181.3 1686.0,181.3 C1686.7,181.3 1687.3,181.3 1688.0,181.3 C1688.7,181.2 1689.3,181.2 1690.0,181.2 C1690.7,181.2 1691.3,181.1 1692.0,181.1 C1692.7,181.1 1693.3,181.0 1694.0,181.0 C1694.7,181.0 1695.3,180.9 1696.0,180.9 C1696.7,180.9 1697.3,180.8 1698.0,180.8 C1698.7,180.7 1699.3,180.7 1700.0,180.6 C1700.7,180.6 1701.3,180.5 1702.0,180.4 C1702.7,180.4 1703.3,180.3 1704.0,180.2 C1704.7,180.1 1705.5,180.0 1706.0,180.0 C1706.5,179.9 1706.8,179.9 1707.0,179.8" fill="none" stroke="#3f5fae" stroke-width="7" stroke-linejoin="round" />
<path d="M1392.0,159.4 C1392.3,159.4 1393.3,159.4 1394.0,159.3 C1394.7,159.3 1395.3,159.3 1396.0,159.2 C1396.7,159.2 1397.3,159.2 1398.0,159.2 C1398.7,159.2 1399.3,159.2 1400.0,159.2 C1400.7,159.2 1401.3,159.2 1402.0,159.2 C1402.7,159.2 1403.3,159.2 1404.0,159.2 C1404.7,159.2 1405.3,159.2 1406.0,159.2 C1406.7,159.2 1407.3,159.2 1408.0,159.2 C1408.7,159.2 1409.3,159.3 1410.0,159.3 C1410.7,159.3 1411.3,159.3 1412.0,159.3 C1412.7,159.3 1413.3,159.3 1414.0,159.4 C1414.7,159.4 1415.3,159.4 1416.0,159.4 C1416.7,159.4 1417.3,159.4 1418.0,159.4 C1418.7,159.4 1419.3,159.4 1420.0,159.4 C1420.7,159.4 1421.3,159.4 1422.0,159.4 C1422.7,159.4 1423.3,159.3 1424.0,159.3 C1424.7,159.3 1425.3,159.3 1426.0,159.2 C1426.7,159.2 1427.3,159.2 1428.0,159.1 C1428.7,159.1 1429.3,159.0 1430.0,159.0 C1430.7,158.9 1431.3,158.8 1432.0,158.8 C1432.7,158.7 1433.3,158.6 1434.0,158.5 C1434.7,158.4 1435.3,158.3 1436.0,158.2 C1436.7,158.1 1437.3,158.0 1438.0,157.9 C1438.7,157.8 1439.3,157.6 1440.0,157.5 C1440.7,157.3 1441.3,157.2 1442.0,157.0 C1442.7,156.8 1443.3,156.6 1444.0,156.5 C1444.7,156.3 1445.3,156.1 1446.0,155.9 C1446.7,155.7 1447.3,155.4 1448.0,155.2 C1448.7,155.0 1449.3,154.8 1450.0,154.6 C1450.7,154.4 1451.3,154.1 1452.0,153.9 C1452.7,153.7 1453.3,153.5 1454.0,153.3 C1454.7,153.1 1455.3,152.9 1456.0,152.7 C1456.7,152.5 1457.3,152.3 1458.0,152.1 C1458.7,152.0 1459.3,151.7 1460.0,151.9 C1460.7,152.1 1461.3,152.4 1462.0,153.2 C1462.7,153.9 1463.3,155.0 1464.0,156.2 C1464.7,157.3 1465.3,158.8 1466.0,160.1 C1466.7,161.4 1467.3,162.9 1468.0,164.1 C1468.7,165.2 1469.3,166.3 1470.0,167.1 C1470.7,168.0 1471.3,168.5 1472.0,169.0 C1472.7,169.4 1473.3,169.7 1474.0,169.9 C1474.7,170.0 1475.3,170.0 1476.0,170.0 C1476.7,169.9 1477.3,169.8 1478.0,169.5 C1478.7,169.3 1479.3,169.0 1480.0,168.7 C1480.7,168.3 1481.3,167.9 1482.0,167.5 C1482.7,167.1 1483.3,166.6 1484.0,166.2 C1484.7,165.8 1485.3,165.3 1486.0,164.9 C1486.7,164.5 1487.3,164.1 1488.0,163.8 C1488.7,163.4 1489.3,163.1 1490.0,162.8 C1490.7,162.4 1491.3,162.1 1492.0,161.8 C1492.7,161.5 1493.3,161.3 1494.0,161.0 C1494.7,160.7 1495.3,160.4 1496.0,160.2 C1496.7,159.9 1497.3,159.6 1498.0,159.4 C1498.7,159.1 1499.3,158.8 1500.0,158.6 C1500.7,158.3 1501.3,158.0 1502.0,157.7 C1502.7,157.4 1503.3,157.1 1504.0,156.8 C1504.7,156.5 1505.3,156.1 1506.0,155.8 C1506.7,155.4 1507.3,155.0 1508.0,154.6 C1508.7,154.2 1509.3,153.8 1510.0,153.3 C1510.7,152.8 1511.3,152.3 1512.0,151.8 C1512.7,151.3 1513.3,150.7 1514.0,150.1 C1514.7,149.5 1515.3,148.8 1516.0,148.1 C1516.7,147.4 1517.3,146.7 1518.0,145.9 C1518.7,145.1 1519.3,144.3 1520.0,143.4 C1520.7,142.5 1521.3,141.5 1522.0,140.5 C1522.7,139.6 1523.3,138.5 1524.0,137.5 C1524.7,136.5 1525.3,135.4 1526.0,134.5 C1526.7,133.6 1527.3,132.7 1528.0,131.9 C1528.7,131.2 1529.3,130.5 1530.0,130.0 C1530.7,129.6 1531.3,129.2 1532.0,129.2 C1532.7,129.1 1533.3,129.2 1534.0,129.6 C1534.7,130.0 1535.3,130.6 1536.0,131.6 C1536.7,132.6 1537.3,133.9 1538.0,135.5 C1538.7,137.2 1539.3,139.2 1540.0,141.7 C1540.7,144.2 1541.3,147.1 1542.0,150.4 C1542.7,153.7 1543.3,157.7 1544.0,161.5 C1544.7,165.4 1545.3,169.6 1546.0,173.3 C1546.7,177.0 1547.3,180.3 1548.0,183.6 C1548.7,187.0 1549.3,190.0 1550.0,193.5 C1550.7,196.9 1551.3,200.7 1552.0,204.5 C1552.7,208.2 1553.3,212.2 1554.0,216.0 C1554.7,219.7 1555.3,223.6 1556.0,227.2 C1556.7,230.7 1557.3,234.2 1558.0,237.3 C1558.7,240.4 1559.3,243.3 1560.0,245.9 C1560.7,248.4 1561.3,250.7 1562.0,252.8 C1562.7,254.8 1563.3,256.5 1564.0,258.0 C1564.7,259.5 1565.3,260.7 1566.0,261.6 C1566.7,262.6 1567.3,263.2 1568.0,263.7 C1568.7,264.1 1569.3,264.2 1570.0,264.1 C1570.7,264.0 1571.3,263.6 1572.0,263.0 C1572.7,262.4 1573.3,261.6 1574.0,260.6 C1574.7,259.6 1575.3,258.4 1576.0,257.2 C1576.7,255.9 1577.3,254.4 1578.0,252.8 C1578.7,251.3 1579.3,249.6 1580.0,247.9 C1580.7,246.2 1581.3,244.4 1582.0,242.5 C1582.7,240.7 1583.3,238.8 1584.0,236.9 C1584.7,235.0 1585.3,233.0 1586.0,231.1 C1586.7,229.2 1587.3,227.2 1588.0,225.3 C1588.7,223.4 1589.3,221.4 1590.0,219.6 C1590.7,217.7 1591.3,215.9 1592.0,214.1 C1592.7,212.4 1593.3,210.7 1594.0,209.1 C1594.7,207.4 1595.3,205.9 1596.0,204.5 C1596.7,203.1 1597.3,201.8 1598.0,200.6 C1598.7,199.3 1599.3,198.3 1600.0,197.3 C1600.7,196.3 1601.3,195.4 1602.0,194.5 C1602.7,193.7 1603.3,193.0 1604.0,192.3 C1604.7,191.6 1605.3,191.0 1606.0,190.4 C1606.7,189.8 1607.3,189.2 1608.0,188.7 C1608.7,188.2 1609.3,187.7 1610.0,187.2 C1610.7,186.7 1611.3,186.3 1612.0,185.8 C1612.7,185.3 1613.3,184.9 1614.0,184.4 C1614.7,184.0 1615.3,183.5 1616.0,183.1 C1616.7,182.7 1617.3,182.2 1618.0,181.8 C1618.7,181.4 1619.3,181.0 1620.0,180.6 C1620.7,180.2 1621.3,179.8 1622.0,179.4 C1622.7,179.0 1623.3,178.7 1624.0,178.3 C1624.7,177.9 1625.3,177.6 1626.0,177.2 C1626.7,176.9 1627.3,176.5 1628.0,176.2 C1628.7,175.9 1629.3,175.5 1630.0,175.2 C1630.7,174.9 1631.3,174.6 1632.0,174.3 C1632.7,174.0 1633.3,173.7 1634.0,173.4 C1634.7,173.1 1635.3,172.8 1636.0,172.5 C1636.7,172.2 1637.3,172.0 1638.0,171.7 C1638.7,171.4 1639.3,171.2 1640.0,170.9 C1640.7,170.6 1641.3,170.4 1642.0,170.2 C1642.7,169.9 1643.3,169.7 1644.0,169.4 C1644.7,169.2 1645.3,169.0 1646.0,168.8 C1646.7,168.6 1647.3,168.3 1648.0,168.1 C1648.7,167.9 1649.3,167.7 1650.0,167.5 C1650.7,167.3 1651.3,167.1 1652.0,166.9 C1652.7,166.8 1653.3,166.6 1654.0,166.4 C1654.7,166.2 1655.3,166.0 1656.0,165.9 C1656.7,165.7 1657.3,165.5 1658.0,165.4 C1658.7,165.2 1659.3,165.1 1660.0,164.9 C1660.7,164.8 1661.3,164.6 1662.0,164.5 C1662.7,164.3 1663.3,164.2 1664.0,164.1 C1664.7,163.9 1665.3,163.8 1666.0,163.7 C1666.7,163.5 1667.3,163.4 1668.0,163.3 C1668.7,163.2 1669.3,163.0 1670.0,162.9 C1670.7,162.8 1671.3,162.7 1672.0,162.6 C1672.7,162.5 1673.3,162.4 1674.0,162.3 C1674.7,162.2 1675.3,162.1 1676.0,162.0 C1676.7,161.9 1677.3,161.8 1678.0,161.7 C1678.7,161.6 1679.3,161.5 1680.0,161.4 C1680.7,161.3 1681.3,161.2 1682.0,161.2 C1682.7,161.1 1683.3,161.0 1684.0,160.9 C1684.7,160.8 1685.3,160.8 1686.0,160.7 C1686.7,160.6 1687.3,160.5 1688.0,160.5 C1688.7,160.4 1689.3,160.3 1690.0,160.2 C1690.7,160.2 1691.3,160.1 1692.0,160.0 C1692.7,160.0 1693.3,159.9 1694.0,159.8 C1694.7,159.7 1695.3,159.7 1696.0,159.6 C1696.7,159.5 1697.3,159.5 1698.0,159.4 C1698.7,159.4 1699.3,159.3 1700.0,159.2 C1700.7,159.2 1701.3,159.1 1702.0,159.0 C1702.7,159.0 1703.3,158.9 1704.0,158.8 C1704.7,158.8 1705.7,158.7 1706.0,158.6" fill="none" stroke="#2b8a3e" stroke-width="7" stroke-linejoin="round" />
<rect x="1391.2" y="41.8" width="316.6" height="273.8" fill="none" stroke="#1a1a1a" stroke-width="3.5"/>
<text x="1376.67" y="339.6" font-size="22.00" textLength="28.86" lengthAdjust="spacingAndGlyphs" fill="#111" stroke="#111" stroke-width="0.3">3.4</text>
<text x="1440.09" y="339.6" font-size="22.00" textLength="28.86" lengthAdjust="spacingAndGlyphs" fill="#111" stroke="#111" stroke-width="0.3">3.6</text>
<text x="1503.41" y="339.6" font-size="22.00" textLength="28.86" lengthAdjust="spacingAndGlyphs" fill="#111" stroke="#111" stroke-width="0.3">3.8</text>
<text x="1575.50" y="339.6" font-size="22.00" textLength="11.55" lengthAdjust="spacingAndGlyphs" fill="#111" stroke="#111" stroke-width="0.3">4</text>
<text x="1630.36" y="339.6" font-size="22.00" textLength="28.86" lengthAdjust="spacingAndGlyphs" fill="#111" stroke="#111" stroke-width="0.3">4.2</text>
<text x="1693.47" y="339.6" font-size="22.00" textLength="28.86" lengthAdjust="spacingAndGlyphs" fill="#111" stroke="#111" stroke-width="0.3">4.4</text>
<text x="1373.00" y="88.99" font-size="22.00" textLength="11.55" lengthAdjust="spacingAndGlyphs" fill="#111" stroke="#111" stroke-width="0.3">4</text>
<text x="1373.10" y="166.90" font-size="22.00" textLength="11.55" lengthAdjust="spacingAndGlyphs" fill="#111" stroke="#111" stroke-width="0.3">0</text>
<text x="1366.04" y="244.59" font-size="22.00" textLength="18.46" lengthAdjust="spacingAndGlyphs" fill="#111" stroke="#111" stroke-width="0.3">-4</text>
<text x="1366.25" y="322.50" font-size="22.00" textLength="18.46" lengthAdjust="spacingAndGlyphs" fill="#111" stroke="#111" stroke-width="0.3">-8</text>
<text x="1447.20" y="78.37" font-size="22.82" font-weight="bold" fill="#111" stroke="#111" stroke-width="0.55" textLength="55.57" lengthAdjust="spacingAndGlyphs">PPHC</text>
<text x="1561.37" y="97.90" font-size="19.31" font-weight="bold" fill="#8e1b25" stroke="#8e1b25" stroke-width="0.55" textLength="13.76" lengthAdjust="spacingAndGlyphs">k</text>
<text x="1574.31" y="104.76" font-size="14.97" fill="#8e1b25" stroke="#8e1b25" stroke-width="0.3" textLength="9.17" lengthAdjust="spacingAndGlyphs">||</text>
<text x="1583.21" y="88.54" font-size="10.27" font-weight="bold" fill="#8e1b25" stroke="#8e1b25" stroke-width="0.15" textLength="17.28" lengthAdjust="spacingAndGlyphs">(+)</text>
<text x="1554.75" y="179.48" font-size="21.63" fill="#2b8a3e" stroke="#2b8a3e" stroke-width="0.3" textLength="44.59" lengthAdjust="spacingAndGlyphs">total</text>
<text x="1487.83" y="264.30" font-size="23.59" font-weight="bold" fill="#3f5fae" stroke="#3f5fae" stroke-width="0.55" textLength="11.70" lengthAdjust="spacingAndGlyphs">k</text>
<text x="1499.13" y="271.55" font-size="15.94" fill="#3f5fae" stroke="#3f5fae" stroke-width="0.3" textLength="9.63" lengthAdjust="spacingAndGlyphs">||</text>
<text x="1508.66" y="253.32" font-size="11.34" font-weight="bold" fill="#3f5fae" stroke="#3f5fae" stroke-width="0.15" textLength="12.77" lengthAdjust="spacingAndGlyphs">(-)</text>
<text x="1442.92" y="19.34" font-size="25.99" font-weight="bold" fill="#111" stroke="#111" stroke-width="0.55" textLength="16.45" lengthAdjust="spacingAndGlyphs">d</text>
<text x="1458.99" y="17.18" font-size="24.39" fill="#111" stroke="#111" stroke-width="0.3" textLength="7.42" lengthAdjust="spacingAndGlyphs">)</text>
<text x="1471.79" y="19.10" font-size="25.51" fill="#111" stroke="#111" stroke-width="0.3" textLength="152.43" lengthAdjust="spacingAndGlyphs">Poynting Flux</text>
<text x="1468.72" y="368.85" font-size="24.55" font-style="italic" fill="#111" stroke="#111" stroke-width="0.3" textLength="20.12" lengthAdjust="spacingAndGlyphs">ω</text>
<text x="1494.92" y="369.10" font-size="27.54" fill="#111" stroke="#111" stroke-width="0.3" textLength="9.30" lengthAdjust="spacingAndGlyphs">(</text>
<text x="1502.96" y="370.77" font-size="20.67" fill="#111" stroke="#111" stroke-width="0.3" textLength="13.65" lengthAdjust="spacingAndGlyphs">×</text>
<text x="1516.90" y="368.83" font-size="27.32" fill="#111" stroke="#111" stroke-width="0.3" textLength="29.70" lengthAdjust="spacingAndGlyphs">10</text>
<text x="1549.43" y="359.73" font-size="17.18" fill="#111" stroke="#111" stroke-width="0.3" textLength="14.42" lengthAdjust="spacingAndGlyphs">13</text>
<text x="1571.29" y="369.10" font-size="27.54" fill="#111" stroke="#111" stroke-width="0.3" textLength="71.32" lengthAdjust="spacingAndGlyphs">rad/s)</text>
<text x="-301.85" y="1354.50" transform="rotate(-90)" font-size="27.50" font-style="italic" textLength="16.73" lengthAdjust="spacingAndGlyphs" fill="#111111" stroke="#111111" stroke-width="0.3">P</text>
<text x="-287.25" y="1364.00" transform="rotate(-90)" font-size="15.50" font-weight="bold" textLength="8.55" lengthAdjust="spacingAndGlyphs" fill="#111111" stroke="#111111" stroke-width="0.45">y</text>
<text x="-271.20" y="1354.50" transform="rotate(-90)" font-size="27.50" textLength="9.43" lengthAdjust="spacingAndGlyphs" fill="#111111" stroke="#111111" stroke-width="0.3">(</text>
<text x="-262.34" y="1353.50" transform="rotate(-90)" font-size="22.00" textLength="11.15" lengthAdjust="spacingAndGlyphs" fill="#111111" stroke="#111111" stroke-width="0.3">×</text>
<text x="-251.57" y="1354.50" transform="rotate(-90)" font-size="27.50" textLength="30.70" lengthAdjust="spacingAndGlyphs" fill="#111111" stroke="#111111" stroke-width="0.3">10</text>
<text x="-221.22" y="1345.00" transform="rotate(-90)" font-size="17.50" textLength="21.96" lengthAdjust="spacingAndGlyphs" fill="#111111" stroke="#111111" stroke-width="0.3">-11</text>
<text x="-191.34" y="1354.50" transform="rotate(-90)" font-size="27.50" textLength="28.88" lengthAdjust="spacingAndGlyphs" fill="#111111" stroke="#111111" stroke-width="0.3">J.s</text>
<text x="-162.77" y="1345.00" transform="rotate(-90)" font-size="17.50" textLength="11.86" lengthAdjust="spacingAndGlyphs" fill="#111111" stroke="#111111" stroke-width="0.3">2</text>
<text x="-151.00" y="1354.50" transform="rotate(-90)" font-size="27.50" textLength="79.39" lengthAdjust="spacingAndGlyphs" fill="#111111" stroke="#111111" stroke-width="0.3">/rad.m</text>
<text x="-72.41" y="1345.00" transform="rotate(-90)" font-size="17.50" textLength="11.34" lengthAdjust="spacingAndGlyphs" fill="#111111" stroke="#111111" stroke-width="0.3">4</text>
<text x="-66.32" y="1354.50" transform="rotate(-90)" font-size="27.50" textLength="14.70" lengthAdjust="spacingAndGlyphs" fill="#111111" stroke="#111111" stroke-width="0.3">)</text></svg>
</body></html>
